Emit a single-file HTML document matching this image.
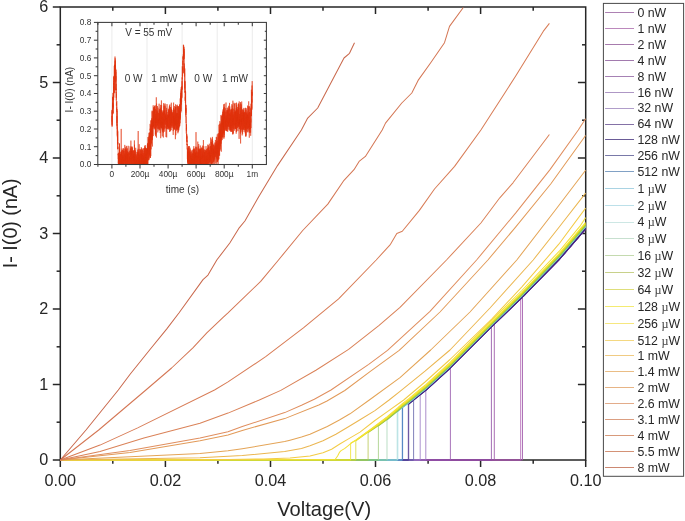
<!DOCTYPE html>
<html lang="en">
<head>
<meta charset="utf-8">
<title>I-V curves</title>
<style>
html,body{margin:0;padding:0;background:#ffffff;}
body{width:685px;height:521px;overflow:hidden;}
svg{display:block;}
</style>
</head>
<body>
<svg width="685" height="521" viewBox="0 0 685 521" font-family="'Liberation Sans', Arial, sans-serif">
<rect x="0" y="0" width="685" height="521" fill="#ffffff"/>
<g stroke="#262626" stroke-width="1.5" fill="none" stroke-linecap="butt">
<rect x="60.3" y="7.0" width="525.4" height="453"/>
<line x1="60.3" y1="460.0" x2="60.3" y2="467"/>
<line x1="112.8" y1="7.0" x2="112.8" y2="10.7"/>
<line x1="112.8" y1="460.0" x2="112.8" y2="463.7"/>
<line x1="165.4" y1="7.0" x2="165.4" y2="14"/>
<line x1="165.4" y1="460.0" x2="165.4" y2="467"/>
<line x1="217.9" y1="7.0" x2="217.9" y2="10.7"/>
<line x1="217.9" y1="460.0" x2="217.9" y2="463.7"/>
<line x1="270.5" y1="7.0" x2="270.5" y2="14"/>
<line x1="270.5" y1="460.0" x2="270.5" y2="467"/>
<line x1="323" y1="7.0" x2="323" y2="10.7"/>
<line x1="323" y1="460.0" x2="323" y2="463.7"/>
<line x1="375.5" y1="7.0" x2="375.5" y2="14"/>
<line x1="375.5" y1="460.0" x2="375.5" y2="467"/>
<line x1="428.1" y1="7.0" x2="428.1" y2="10.7"/>
<line x1="428.1" y1="460.0" x2="428.1" y2="463.7"/>
<line x1="480.6" y1="7.0" x2="480.6" y2="14"/>
<line x1="480.6" y1="460.0" x2="480.6" y2="467"/>
<line x1="533.2" y1="7.0" x2="533.2" y2="10.7"/>
<line x1="533.2" y1="460.0" x2="533.2" y2="463.7"/>
<line x1="585.7" y1="460.0" x2="585.7" y2="467"/>
<line x1="52.8" y1="460" x2="60.3" y2="460"/>
<line x1="56.6" y1="422.2" x2="60.3" y2="422.2"/>
<line x1="582" y1="422.2" x2="585.7" y2="422.2"/>
<line x1="52.8" y1="384.5" x2="60.3" y2="384.5"/>
<line x1="577.9" y1="384.5" x2="585.7" y2="384.5"/>
<line x1="56.6" y1="346.8" x2="60.3" y2="346.8"/>
<line x1="582" y1="346.8" x2="585.7" y2="346.8"/>
<line x1="52.8" y1="309" x2="60.3" y2="309"/>
<line x1="577.9" y1="309" x2="585.7" y2="309"/>
<line x1="56.6" y1="271.2" x2="60.3" y2="271.2"/>
<line x1="582" y1="271.2" x2="585.7" y2="271.2"/>
<line x1="52.8" y1="233.5" x2="60.3" y2="233.5"/>
<line x1="577.9" y1="233.5" x2="585.7" y2="233.5"/>
<line x1="56.6" y1="195.8" x2="60.3" y2="195.8"/>
<line x1="582" y1="195.8" x2="585.7" y2="195.8"/>
<line x1="52.8" y1="158" x2="60.3" y2="158"/>
<line x1="577.9" y1="158" x2="585.7" y2="158"/>
<line x1="56.6" y1="120.2" x2="60.3" y2="120.2"/>
<line x1="582" y1="120.2" x2="585.7" y2="120.2"/>
<line x1="52.8" y1="82.5" x2="60.3" y2="82.5"/>
<line x1="577.9" y1="82.5" x2="585.7" y2="82.5"/>
<line x1="56.6" y1="44.8" x2="60.3" y2="44.8"/>
<line x1="582" y1="44.8" x2="585.7" y2="44.8"/>
<line x1="52.8" y1="7" x2="60.3" y2="7"/>
</g>
<g>
<polyline points="60.3,460 522.5,460" fill="none" stroke="#9a4aa6" stroke-width="0.95" stroke-linejoin="round" />
<polyline points="522.5,460 522.5,297.1" fill="none" stroke="#a05aaa" stroke-width="0.85" stroke-linejoin="round" />
<polyline points="522.5,297.1 558.8,260 585.6,229" fill="none" stroke="#9a4aa6" stroke-width="1.02" stroke-linejoin="round" />
<polyline points="60.3,460 520.7,460" fill="none" stroke="#b055b4" stroke-width="0.95" stroke-linejoin="round" />
<polyline points="520.7,460 520.7,298.8" fill="none" stroke="#b062b4" stroke-width="0.85" stroke-linejoin="round" />
<polyline points="520.7,298.8 521.9,297.7 558.8,260 585.6,229" fill="none" stroke="#b055b4" stroke-width="1.02" stroke-linejoin="round" />
<polyline points="60.3,460 494.3,460" fill="none" stroke="#924aa0" stroke-width="0.95" stroke-linejoin="round" />
<polyline points="494.3,460 494.3,324.1" fill="none" stroke="#9a55a5" stroke-width="0.85" stroke-linejoin="round" />
<polyline points="494.3,324.1 521.9,297.7 558.8,260 585.6,229" fill="none" stroke="#924aa0" stroke-width="1.02" stroke-linejoin="round" />
<polyline points="60.3,460 491.4,460" fill="none" stroke="#8a48a2" stroke-width="0.95" stroke-linejoin="round" />
<polyline points="491.4,460 491.4,326.9" fill="none" stroke="#9454a6" stroke-width="0.85" stroke-linejoin="round" />
<polyline points="491.4,326.9 521.9,297.7 558.8,260 585.6,229" fill="none" stroke="#8a48a2" stroke-width="1.02" stroke-linejoin="round" />
<polyline points="60.3,460 450.4,460" fill="none" stroke="#9050aa" stroke-width="0.95" stroke-linejoin="round" />
<polyline points="450.4,460 450.4,367.9" fill="none" stroke="#985cae" stroke-width="0.85" stroke-linejoin="round" />
<polyline points="450.4,367.9 491.7,326.6 521.9,297.7 558.8,260 585.6,229" fill="none" stroke="#9050aa" stroke-width="1.02" stroke-linejoin="round" />
<polyline points="60.3,460 425.8,460" fill="none" stroke="#9670c0" stroke-width="0.95" stroke-linejoin="round" />
<polyline points="425.8,460 425.8,390.3" fill="none" stroke="#9c78c0" stroke-width="0.85" stroke-linejoin="round" />
<polyline points="425.8,390.3 450.3,368 491.7,326.6 521.9,297.7 558.8,260 585.6,229" fill="none" stroke="#9670c0" stroke-width="1.02" stroke-linejoin="round" />
<polyline points="60.3,460 420.2,460" fill="none" stroke="#9878c6" stroke-width="0.95" stroke-linejoin="round" />
<polyline points="420.2,460 420.2,394.8" fill="none" stroke="#9e80c6" stroke-width="0.85" stroke-linejoin="round" />
<polyline points="420.2,394.8 425.8,390.3 450.3,368 491.7,326.6 521.9,297.7 558.8,260 585.6,229" fill="none" stroke="#9878c6" stroke-width="1.02" stroke-linejoin="round" />
<polyline points="60.3,460 408.3,460" fill="none" stroke="#5e3e98" stroke-width="0.95" stroke-linejoin="round" />
<polyline points="408.3,460 408.3,404.4" fill="none" stroke="#6c4ea0" stroke-width="0.85" stroke-linejoin="round" />
<polyline points="408.3,404.4 413.9,399.9 420.4,394.6 425.8,390.3 450.3,368 491.7,326.6 521.9,297.7 558.8,260 585.6,229" fill="none" stroke="#5e3e98" stroke-width="1.02" stroke-linejoin="round" />
<polyline points="60.3,460 408.7,460" fill="none" stroke="#40288a" stroke-width="0.95" stroke-linejoin="round" />
<polyline points="408.7,460 408.7,404.1" fill="none" stroke="#5a4498" stroke-width="0.85" stroke-linejoin="round" />
<polyline points="408.7,404.1 413.9,399.9 420.4,394.6 425.8,390.3 450.3,368 491.7,326.6 521.9,297.7 558.8,260 585.6,229" fill="none" stroke="#40288a" stroke-width="1.02" stroke-linejoin="round" />
<polyline points="60.3,460 413.6,460" fill="none" stroke="#4c4c9c" stroke-width="0.95" stroke-linejoin="round" />
<polyline points="413.6,460 413.6,399" fill="none" stroke="#6a6aac" stroke-width="0.85" stroke-linejoin="round" />
<polyline points="413.6,399 420.4,393.4 425.8,389.1 450.3,366.8 491.7,325.4 521.9,296.4 558.8,258.5 585.6,227.3" fill="none" stroke="#4c4c9c" stroke-width="1.02" stroke-linejoin="round" />
<polyline points="60.3,460 402.6,460" fill="none" stroke="#4a80c0" stroke-width="0.95" stroke-linejoin="round" />
<polyline points="402.6,460 402.6,407.4" fill="none" stroke="#4a80c0" stroke-width="0.85" stroke-linejoin="round" />
<polyline points="402.6,407.4 408.5,403 413.9,398.5 420.4,393.2 425.8,388.9 450.3,366.6 491.7,325.2 521.9,296.1 558.8,258.2 585.6,227" fill="none" stroke="#4a80c0" stroke-width="1.02" stroke-linejoin="round" />
<polygon points="408.5,404.8 413.9,400.3 420.4,395.1 425.8,390.8 450.3,368.4 491.7,327.1 521.9,298.1 558.8,260.4 585.6,229.4 585.6,226.7 558.8,258.2 521.9,296.3 491.7,325.6 450.3,367.3 425.8,389.8 420.4,394.1 413.9,399.5 408.5,403.9" fill="#43227f"/>
<polyline points="60.3,460 402.3,460" fill="none" stroke="#6cbede" stroke-width="0.95" stroke-linejoin="round" />
<polyline points="402.3,460 402.3,407.4" fill="none" stroke="#4a80c0" stroke-width="0.85" stroke-linejoin="round" />
<polyline points="402.3,407.4 408.5,402.7 413.9,398.3 420.4,393 425.8,388.7 450.3,366.4 491.7,325 521.9,295.9 558.8,257.9 585.6,226.7" fill="none" stroke="#6cbede" stroke-width="1.15" stroke-linejoin="round" />
<polyline points="60.3,460 397.8,460" fill="none" stroke="#80cce0" stroke-width="0.95" stroke-linejoin="round" />
<polyline points="397.8,460 397.8,411.2" fill="none" stroke="#a4dcea" stroke-width="0.85" stroke-linejoin="round" />
<polyline points="397.8,411.2 402.6,407 408.5,402.6 413.9,398.2 420.4,392.9 425.8,388.5 450.3,366.2 491.7,324.8 521.9,295.7 558.8,257.7 585.6,226.5" fill="none" stroke="#80cce0" stroke-width="1.15" stroke-linejoin="round" />
<polyline points="60.3,460 397.2,460" fill="none" stroke="#84d0c4" stroke-width="0.95" stroke-linejoin="round" />
<polyline points="397.2,460 397.2,411.6" fill="none" stroke="#b4e0dc" stroke-width="0.85" stroke-linejoin="round" />
<polyline points="397.2,411.6 402.6,406.9 408.5,402.4 413.9,398 420.4,392.7 425.8,388.4 450.3,366.1 491.7,324.6 521.9,295.5 558.8,257.5 585.6,226.3" fill="none" stroke="#84d0c4" stroke-width="1.15" stroke-linejoin="round" />
<polyline points="60.3,460 387,460" fill="none" stroke="#7cc890" stroke-width="0.95" stroke-linejoin="round" />
<polyline points="387,460 387,419.8" fill="none" stroke="#aed8ba" stroke-width="0.85" stroke-linejoin="round" />
<polyline points="387,419.8 397.6,411 402.6,406.6 408.5,402.2 413.9,397.8 420.4,392.4 425.8,388.1 450.3,365.8 491.7,324.3 521.9,295.2 558.8,257.1 585.6,225.9" fill="none" stroke="#7cc890" stroke-width="1.15" stroke-linejoin="round" />
<polyline points="60.3,460 378.4,460" fill="none" stroke="#86c85a" stroke-width="0.95" stroke-linejoin="round" />
<polyline points="378.4,460 378.4,425.8" fill="none" stroke="#a8d088" stroke-width="0.85" stroke-linejoin="round" />
<polyline points="378.4,425.8 387,419.5 397.6,410.7 402.6,406.3 408.5,401.9 413.9,397.4 420.4,392.1 425.8,387.8 450.3,365.5 491.7,324 521.9,294.8 558.8,256.7 585.6,225.4" fill="none" stroke="#86c85a" stroke-width="1.15" stroke-linejoin="round" />
<polyline points="60.3,460 368.1,460" fill="none" stroke="#aac63a" stroke-width="0.95" stroke-linejoin="round" />
<polyline points="368.1,460 368.1,432.5" fill="none" stroke="#bccb5c" stroke-width="0.85" stroke-linejoin="round" />
<polyline points="368.1,432.5 378.4,425.4 387,419 397.6,410.2 402.6,405.8 408.5,401.3 413.9,396.9 420.4,391.6 425.8,387.3 450.3,364.9 491.7,323.5 521.9,294.2 558.8,256 585.6,224.7" fill="none" stroke="#aac63a" stroke-width="1.2" stroke-linejoin="round" />
<polyline points="60.3,460 355.8,460" fill="none" stroke="#d4d628" stroke-width="0.95" stroke-linejoin="round" />
<polyline points="355.8,460 355.8,440.8" fill="none" stroke="#dadb3e" stroke-width="0.85" stroke-linejoin="round" />
<polyline points="355.8,440.8 368.1,432 378.4,424.8 387,418.4 397.6,409.6 402.6,405.2 408.5,400.7 413.9,396.3 420.4,390.9 425.8,386.6 450.3,364.3 491.7,322.8 521.9,293.5 558.8,255.2 585.6,223.8" fill="none" stroke="#d4d628" stroke-width="1.2" stroke-linejoin="round" />
<polyline points="60.3,460 350.6,460" fill="none" stroke="#f2e628" stroke-width="0.95" stroke-linejoin="round" />
<polyline points="350.6,460 350.6,443.2" fill="none" stroke="#f0e438" stroke-width="0.85" stroke-linejoin="round" />
<polyline points="350.6,443.2 355.8,440.3 368.1,431.4 378.4,424.1 387,417.6 397.6,408.8 402.6,404.4 408.5,399.9 413.9,395.5 420.4,390.1 425.8,385.8 450.3,363.5 491.7,322 521.9,292.6 558.8,254.1 585.6,222.6" fill="none" stroke="#f2e628" stroke-width="1.2" stroke-linejoin="round" />
<polyline points="60.3,460 335.3,459.3 337.6,456 339.4,452.4 341.1,450.6 344.5,448.6 348,445.8 350.6,443.7 355.8,440.2 368.1,431.1 378.4,423.4 387,416.9 397.6,407.9 402.6,403.4 408.5,398.9 413.9,394.4 420.4,389 425.8,384.6 450.3,362.1 491.7,320.2 521.9,290.5 560,250.3 580,226.2 585.6,217.6" fill="none" stroke="#f5e038" stroke-width="1.02" stroke-linejoin="round" />
<polyline points="60.3,460 200,459.9 263.5,459 290,457.9 310,456 323,452.8 331.6,449.2 340.2,443.8 348.9,438.6 360,432.1 374.9,420.5 387.4,411.6 403.7,400 425,382 450,359.5 491.7,319.1 521.9,286.8 558.8,244.2 585.6,208.1" fill="none" stroke="#f3cb46" stroke-width="1.02" stroke-linejoin="round" />
<polyline points="60.3,460 200,457.8 242.3,455.5 284.7,451.6 301.5,448.5 310,445.7 323,440.8 335.9,434.2 348.9,426.5 360,419.8 374.9,410.6 389.1,400 400,391.3 425,371.2 450,350 490,308 533.2,260 560,226 585.6,193.1" fill="none" stroke="#ebb650" stroke-width="1.02" stroke-linejoin="round" />
<polyline points="60.3,460 200,453.4 228,450.8 242.3,448.7 284.7,441.6 290,440.2 301.5,437 310,434.2 327.3,426.5 339.4,420 350,413.8 369.3,400 400,377.6 430.7,350 470,312 516.8,260 555,210.5 585.6,170.2" fill="none" stroke="#e4a456" stroke-width="1.02" stroke-linejoin="round" />
<polyline points="60.3,460 130,452.4 200,440.8 228,434.9 242.3,430.4 284.7,418.6 318.8,405 327,401 344.8,390.5 370,371.6 399.2,350.4 440,312 487.9,260 516,226.6 550.7,184 585.6,135.5" fill="none" stroke="#e29a58" stroke-width="1.02" stroke-linejoin="round" />
<polyline points="60.3,460 130,450.4 200,438 228,431.8 242.3,426.6 284.7,412.6 301.5,405.3 314.3,399.2 331,390 368.7,364.3 387.5,350.4 430,311.3 476.6,260 516,212.6 550,169.6 578.3,130 585.6,118.8" fill="none" stroke="#e08e5e" stroke-width="1.02" stroke-linejoin="round" />
<polyline points="60.3,460 100,451.4 143.9,437.9 200,423.3 228,413.1 259.3,400 280.8,390.4 315.9,370.3 348.6,349.4 378.8,325.6 400,307.3 446.5,260 480.9,223 499.8,197.8 513,182.8 549.4,134.5" fill="none" stroke="#da8258" stroke-width="1.02" stroke-linejoin="round" />
<polyline points="60.3,460 100,445.1 137.7,427.9 214.5,390 228,381.9 265.7,356.7 303.4,327.8 338.6,298.9 376.2,260 390.5,244.3 396.8,233.5 402.3,231.3 419.4,210.4 434.5,189 454.6,166.4 480.9,130 504.8,93 516,75.4 543.2,31.4 549.4,23.4" fill="none" stroke="#d87c56" stroke-width="1.02" stroke-linejoin="round" />
<polyline points="60.3,460 98.7,430 145.9,390 171.6,368 192.9,347.9 206.8,332.9 223.1,317.3 228,312.8 260.7,281.4 278.5,260 302.7,230.5 327.8,204.1 344,180.3 354,169.7 359.1,161.4 365.4,156.4 382.2,130 385.5,123.1 401.8,103 411.8,93 418.1,80.4 430.7,62.8 444.5,42.7 449.5,26.4 463.3,7.5" fill="none" stroke="#d47654" stroke-width="1.02" stroke-linejoin="round" />
<polyline points="60.3,460 86,430 118.3,390 130.1,374.3 150.2,349.2 166.6,329.1 179.1,312.8 203,279.6 208,275.1 216.8,260 229.8,243 239.4,227.6 244.9,221 258.7,196.8 277.5,165.6 301.4,130 307.7,118.1 317.7,108 344,58 349.5,53.3 354.5,42.7" fill="none" stroke="#c9684c" stroke-width="1.02" stroke-linejoin="round" />
</g>
<g fill="#262626" font-size="16.2px">
<text x="60.3" y="486.2" text-anchor="middle">0.00</text>
<text x="165.4" y="486.2" text-anchor="middle">0.02</text>
<text x="270.5" y="486.2" text-anchor="middle">0.04</text>
<text x="375.5" y="486.2" text-anchor="middle">0.06</text>
<text x="480.6" y="486.2" text-anchor="middle">0.08</text>
<text x="585.7" y="486.2" text-anchor="middle">0.10</text>
<text x="48.2" y="465" text-anchor="end">0</text>
<text x="48.2" y="389.5" text-anchor="end">1</text>
<text x="48.2" y="314" text-anchor="end">2</text>
<text x="48.2" y="238.5" text-anchor="end">3</text>
<text x="48.2" y="163" text-anchor="end">4</text>
<text x="48.2" y="87.5" text-anchor="end">5</text>
<text x="48.2" y="12" text-anchor="end">6</text>
</g>
<text x="324.2" y="515.5" text-anchor="middle" font-size="20.1px" fill="#262626">Voltage(V)</text>
<text transform="translate(16.9,223.3) rotate(-90)" text-anchor="middle" font-size="19.7px" fill="#262626">I- I(0) (nA)</text>
<rect x="603.4" y="3.4" width="80.2" height="472.9" fill="#ffffff" stroke="#4a4a4a" stroke-width="1"/>
<g font-size="12.35px" fill="#262626">
<line x1="605.1" y1="12.5" x2="634" y2="12.5" stroke="#ad81b3" stroke-width="1"/>
<text x="637.4" y="16.9">0 nW</text>
<line x1="605.1" y1="28.5" x2="634" y2="28.5" stroke="#bc89bd" stroke-width="1"/>
<text x="637.4" y="32.8">1 nW</text>
<line x1="605.1" y1="44.5" x2="634" y2="44.5" stroke="#a77bad" stroke-width="1"/>
<text x="637.4" y="48.7">2 nW</text>
<line x1="605.1" y1="60.5" x2="634" y2="60.5" stroke="#a27aae" stroke-width="1"/>
<text x="637.4" y="64.6">4 nW</text>
<line x1="605.1" y1="76.5" x2="634" y2="76.5" stroke="#a681b4" stroke-width="1"/>
<text x="637.4" y="80.6">8 nW</text>
<line x1="605.1" y1="92.5" x2="634" y2="92.5" stroke="#ae97c5" stroke-width="1"/>
<text x="637.4" y="96.5">16 nW</text>
<line x1="605.1" y1="108.5" x2="634" y2="108.5" stroke="#b09dca" stroke-width="1"/>
<text x="637.4" y="112.4">32 nW</text>
<line x1="605.1" y1="124.5" x2="634" y2="124.5" stroke="#8471a6" stroke-width="1"/>
<text x="637.4" y="128.4">64 nW</text>
<line x1="605.1" y1="139.5" x2="634" y2="139.5" stroke="#6a5b97" stroke-width="1"/>
<text x="637.4" y="144.3">128 nW</text>
<line x1="605.1" y1="155.5" x2="634" y2="155.5" stroke="#7979a8" stroke-width="1"/>
<text x="637.4" y="160.2">256 nW</text>
<line x1="605.1" y1="171.5" x2="634" y2="171.5" stroke="#81a1c5" stroke-width="1"/>
<text x="637.4" y="176.2">512 nW</text>
<line x1="605.1" y1="188.5" x2="634" y2="188.5" stroke="#a9d3e3" stroke-width="1"/>
<text x="637.4" y="192.7">1 <tspan font-family="'Liberation Serif', 'DejaVu Serif', serif" font-size="12.2px" fill="#3c3c3c">µ</tspan>W</text>
<line x1="605.1" y1="205.5" x2="634" y2="205.5" stroke="#bce0e9" stroke-width="1"/>
<text x="637.4" y="209.5">2 <tspan font-family="'Liberation Serif', 'DejaVu Serif', serif" font-size="12.2px" fill="#3c3c3c">µ</tspan>W</text>
<line x1="605.1" y1="222.5" x2="634" y2="222.5" stroke="#cde7e4" stroke-width="1"/>
<text x="637.4" y="226.4">4 <tspan font-family="'Liberation Serif', 'DejaVu Serif', serif" font-size="12.2px" fill="#3c3c3c">µ</tspan>W</text>
<line x1="605.1" y1="238.5" x2="634" y2="238.5" stroke="#c7e0cf" stroke-width="1"/>
<text x="637.4" y="243.3">8 <tspan font-family="'Liberation Serif', 'DejaVu Serif', serif" font-size="12.2px" fill="#3c3c3c">µ</tspan>W</text>
<line x1="605.1" y1="255.5" x2="634" y2="255.5" stroke="#c4daaf" stroke-width="1"/>
<text x="637.4" y="260.1">16 <tspan font-family="'Liberation Serif', 'DejaVu Serif', serif" font-size="12.2px" fill="#3c3c3c">µ</tspan>W</text>
<line x1="605.1" y1="272.5" x2="634" y2="272.5" stroke="#c8d18a" stroke-width="1"/>
<text x="637.4" y="277">32 <tspan font-family="'Liberation Serif', 'DejaVu Serif', serif" font-size="12.2px" fill="#3c3c3c">µ</tspan>W</text>
<line x1="605.1" y1="289.5" x2="634" y2="289.5" stroke="#dede7a" stroke-width="1"/>
<text x="637.4" y="293.9">64 <tspan font-family="'Liberation Serif', 'DejaVu Serif', serif" font-size="12.2px" fill="#3c3c3c">µ</tspan>W</text>
<line x1="605.1" y1="306.5" x2="634" y2="306.5" stroke="#f4eb71" stroke-width="1"/>
<text x="637.4" y="310.7">128 <tspan font-family="'Liberation Serif', 'DejaVu Serif', serif" font-size="12.2px" fill="#3c3c3c">µ</tspan>W</text>
<line x1="605.1" y1="323.5" x2="634" y2="323.5" stroke="#f6e77f" stroke-width="1"/>
<text x="637.4" y="327.6">256 <tspan font-family="'Liberation Serif', 'DejaVu Serif', serif" font-size="12.2px" fill="#3c3c3c">µ</tspan>W</text>
<line x1="605.1" y1="340.5" x2="634" y2="340.5" stroke="#f4d881" stroke-width="1"/>
<text x="637.4" y="344.5">512 <tspan font-family="'Liberation Serif', 'DejaVu Serif', serif" font-size="12.2px" fill="#3c3c3c">µ</tspan>W</text>
<line x1="605.1" y1="355.5" x2="634" y2="355.5" stroke="#f0cb83" stroke-width="1"/>
<text x="637.4" y="360.2">1 mW</text>
<line x1="605.1" y1="371.5" x2="634" y2="371.5" stroke="#eabd85" stroke-width="1"/>
<text x="637.4" y="376.1">1.4 mW</text>
<line x1="605.1" y1="387.5" x2="634" y2="387.5" stroke="#e7b485" stroke-width="1"/>
<text x="637.4" y="392.1">2 mW</text>
<line x1="605.1" y1="403.5" x2="634" y2="403.5" stroke="#e3ac8a" stroke-width="1"/>
<text x="637.4" y="407.9">2.6 mW</text>
<line x1="605.1" y1="419.5" x2="634" y2="419.5" stroke="#db9e81" stroke-width="1"/>
<text x="637.4" y="423.9">3.1 mW</text>
<line x1="605.1" y1="435.5" x2="634" y2="435.5" stroke="#d89a7b" stroke-width="1"/>
<text x="637.4" y="439.8">4 mW</text>
<line x1="605.1" y1="451.5" x2="634" y2="451.5" stroke="#d49276" stroke-width="1"/>
<text x="637.4" y="455.6">5.5 mW</text>
<line x1="605.1" y1="467.5" x2="634" y2="467.5" stroke="#cc8872" stroke-width="1"/>
<text x="637.4" y="471.6">8 mW</text>
</g>
<rect x="97.8" y="22.4" width="168.6" height="142.1" fill="#ffffff" stroke="none"/>
<g stroke="#d6d6d6" stroke-width="0.5">
<line x1="111.9" y1="22.4" x2="111.9" y2="164.5"/>
<line x1="147" y1="22.4" x2="147" y2="164.5"/>
<line x1="182.1" y1="22.4" x2="182.1" y2="164.5"/>
<line x1="217.2" y1="22.4" x2="217.2" y2="164.5"/>
<line x1="252.3" y1="22.4" x2="252.3" y2="164.5"/>
</g>
<polyline points="111.9,121.7 111.9,115.8 112.0,124.7 112.0,119.6 112.0,110.3 112.1,115.3 112.1,126.8 112.2,109.8 112.2,125.8 112.2,125.5 112.3,111.9 112.3,113.7 112.3,110.6 112.4,109.4 112.4,107.7 112.5,102.5 112.5,112.6 112.5,110.5 112.6,112.0 112.6,114.6 112.6,113.0 112.7,105.7 112.7,106.5 112.7,96.9 112.8,106.3 112.8,110.1 112.9,113.5 112.9,97.9 112.9,92.9 113.0,100.0 113.0,97.6 113.0,105.2 113.1,106.8 113.1,103.5 113.2,108.6 113.2,97.3 113.2,110.2 113.3,113.4 113.3,96.3 113.3,100.2 113.4,94.9 113.4,94.9 113.5,98.0 113.5,92.1 113.5,95.4 113.6,83.1 113.6,100.0 113.6,96.8 113.7,87.7 113.7,87.9 113.7,86.3 113.8,97.6 113.8,81.1 113.9,84.7 113.9,77.0 113.9,89.7 114.0,87.2 114.0,87.5 114.0,76.1 114.1,92.4 114.1,75.8 114.2,77.1 114.2,81.6 114.2,77.9 114.3,77.4 114.3,80.8 114.3,65.9 114.4,77.3 114.4,79.1 114.4,71.8 114.5,64.7 114.5,93.2 114.6,73.8 114.6,74.3 114.6,69.2 114.7,66.5 114.7,76.5 114.7,65.0 114.8,71.5 114.8,74.0 114.9,76.4 114.9,70.0 114.9,78.2 115.0,67.8 115.0,56.5 115.0,64.2 115.1,78.9 115.1,72.5 115.2,61.3 115.2,65.3 115.2,58.3 115.3,67.0 115.3,60.3 115.3,68.5 115.4,66.9 115.4,65.4 115.4,66.7 115.5,76.8 115.5,65.0 115.6,69.3 115.6,75.0 115.6,82.3 115.7,82.1 115.7,68.9 115.7,90.1 115.8,72.1 115.8,79.4 115.9,80.5 115.9,77.2 115.9,76.2 116.0,90.4 116.0,69.9 116.0,90.1 116.1,83.9 116.1,93.3 116.1,91.0 116.2,88.7 116.2,97.9 116.3,97.7 116.3,91.8 116.3,100.5 116.4,93.7 116.4,103.2 116.4,105.6 116.5,103.6 116.5,102.4 116.6,107.8 116.6,110.2 116.6,108.6 116.7,107.4 116.7,111.7 116.7,111.9 116.8,101.1 116.8,111.8 116.9,125.5 116.9,121.3 116.9,116.2 117.0,123.1 117.0,119.6 117.0,109.0 117.1,129.5 117.1,110.7 117.1,126.4 117.2,125.9 117.2,124.3 117.3,130.8 117.3,135.6 117.3,130.2 117.4,137.3 117.4,126.6 117.4,132.7 117.5,149.2 117.5,132.7 117.6,141.2 117.6,133.4 117.6,129.6 117.7,141.3 117.7,143.6 117.7,133.6 117.8,131.4 117.8,144.2 117.8,144.6 117.9,143.9 117.9,142.3 118.0,143.2 118.0,149.2 118.0,146.7 118.1,152.0 118.1,154.6 118.1,155.4 118.2,153.6 118.2,155.0 118.3,159.1 118.3,153.7 118.3,163.7 118.4,156.1 118.4,163.4 118.4,162.5 118.5,160.9 118.5,158.2 118.6,154.7 118.6,161.5 118.6,152.7 118.7,154.4 118.7,160.6 118.7,164.5 118.8,157.1 118.8,160.9 118.8,164.5 118.9,159.5 118.9,164.5 119.0,164.5 119.0,162.0 119.0,164.5 119.1,156.7 119.1,158.8 119.1,160.0 119.2,156.1 119.2,153.4 119.3,164.5 119.3,161.5 119.3,153.1 119.4,161.1 119.4,143.8 119.4,159.3 119.5,143.4 119.5,153.7 119.5,159.8 119.6,148.6 119.6,160.1 119.7,157.1 119.7,154.5 119.7,159.1 119.8,164.5 119.8,161.6 119.8,155.3 119.9,163.6 119.9,153.9 120.0,151.7 120.0,153.1 120.0,164.5 120.1,158.6 120.1,162.7 120.1,154.1 120.2,164.5 120.2,152.4 120.3,164.5 120.3,156.6 120.3,159.2 120.4,155.7 120.4,164.5 120.4,154.2 120.5,156.8 120.5,164.5 120.5,161.0 120.6,161.6 120.6,155.4 120.7,157.6 120.7,160.8 120.7,164.5 120.8,164.5 120.8,158.6 120.8,161.3 120.9,161.6 120.9,160.1 121.0,158.7 121.0,158.0 121.0,162.8 121.1,164.5 121.1,164.5 121.1,158.3 121.2,154.4 121.2,128.9 121.2,156.9 121.3,164.0 121.3,158.3 121.4,157.8 121.4,151.8 121.4,156.7 121.5,160.7 121.5,152.4 121.5,164.5 121.6,161.0 121.6,164.5 121.7,159.5 121.7,162.6 121.7,155.2 121.8,164.5 121.8,150.9 121.8,163.8 121.9,163.7 121.9,155.3 121.9,163.6 122.0,154.7 122.0,150.2 122.1,152.7 122.1,159.9 122.1,154.9 122.2,164.5 122.2,148.6 122.2,164.5 122.3,164.5 122.3,160.2 122.4,161.6 122.4,159.7 122.4,164.5 122.5,156.9 122.5,161.2 122.5,162.6 122.6,150.0 122.6,162.5 122.7,163.8 122.7,158.0 122.7,156.6 122.8,163.8 122.8,159.8 122.8,162.8 122.9,158.8 122.9,161.2 122.9,157.6 123.0,164.5 123.0,164.5 123.1,164.5 123.1,155.9 123.1,155.2 123.2,157.9 123.2,164.5 123.2,160.0 123.3,160.4 123.3,155.1 123.4,148.1 123.4,150.6 123.4,157.9 123.5,164.5 123.5,164.5 123.5,150.8 123.6,155.2 123.6,160.6 123.6,164.5 123.7,161.0 123.7,164.5 123.8,164.5 123.8,149.2 123.8,157.2 123.9,162.7 123.9,163.6 123.9,164.5 124.0,164.5 124.0,164.5 124.1,161.0 124.1,160.5 124.1,160.4 124.2,151.1 124.2,161.9 124.2,159.4 124.3,155.1 124.3,160.3 124.4,158.6 124.4,163.6 124.4,157.5 124.5,159.6 124.5,158.2 124.5,161.4 124.6,163.2 124.6,163.6 124.6,160.0 124.7,157.9 124.7,163.5 124.8,163.7 124.8,144.9 124.8,158.8 124.9,153.4 124.9,156.0 124.9,154.8 125.0,158.6 125.0,158.3 125.1,149.3 125.1,164.5 125.1,154.7 125.2,161.9 125.2,159.9 125.2,161.3 125.3,163.4 125.3,154.4 125.3,154.1 125.4,148.2 125.4,148.4 125.5,154.8 125.5,164.5 125.5,164.5 125.6,158.9 125.6,164.5 125.6,149.7 125.7,155.8 125.7,164.5 125.8,146.7 125.8,154.4 125.8,155.3 125.9,162.9 125.9,163.1 125.9,162.8 126.0,160.0 126.0,159.3 126.1,154.4 126.1,159.2 126.1,152.7 126.2,163.0 126.2,156.7 126.2,156.3 126.3,161.4 126.3,155.1 126.3,164.5 126.4,162.1 126.4,154.4 126.5,156.4 126.5,149.9 126.5,152.0 126.6,158.2 126.6,145.9 126.6,164.5 126.7,153.8 126.7,155.6 126.8,159.2 126.8,153.3 126.8,160.0 126.9,164.5 126.9,157.0 126.9,163.7 127.0,160.2 127.0,163.5 127.0,152.4 127.1,149.1 127.1,164.5 127.2,147.9 127.2,156.6 127.2,164.5 127.3,164.5 127.3,158.0 127.3,154.8 127.4,158.6 127.4,151.6 127.5,161.1 127.5,155.3 127.5,164.4 127.6,157.1 127.6,160.8 127.6,158.7 127.7,153.9 127.7,160.1 127.8,151.3 127.8,154.3 127.8,159.5 127.9,161.3 127.9,155.9 127.9,157.2 128.0,158.7 128.0,161.4 128.0,161.7 128.1,163.7 128.1,157.1 128.2,162.6 128.2,152.3 128.2,145.8 128.3,164.5 128.3,155.0 128.3,154.5 128.4,163.2 128.4,154.7 128.5,153.2 128.5,162.4 128.5,152.4 128.6,155.2 128.6,156.7 128.6,155.8 128.7,154.2 128.7,155.2 128.7,158.8 128.8,156.8 128.8,161.7 128.9,159.7 128.9,152.6 128.9,164.2 129.0,158.9 129.0,163.7 129.0,158.0 129.1,163.0 129.1,164.5 129.2,160.5 129.2,161.7 129.2,164.5 129.3,159.8 129.3,161.4 129.3,164.5 129.4,164.0 129.4,164.5 129.5,155.9 129.5,162.7 129.5,164.5 129.6,164.2 129.6,158.6 129.6,164.5 129.7,157.3 129.7,157.8 129.7,164.5 129.8,157.2 129.8,150.9 129.9,154.8 129.9,152.8 129.9,157.4 130.0,151.7 130.0,150.5 130.0,158.2 130.1,163.2 130.1,146.3 130.2,163.2 130.2,157.8 130.2,160.7 130.3,152.6 130.3,148.5 130.3,155.2 130.4,154.0 130.4,160.4 130.4,152.4 130.5,158.3 130.5,156.5 130.6,156.8 130.6,161.9 130.6,164.5 130.7,161.4 130.7,164.5 130.7,162.3 130.8,151.0 130.8,160.2 130.9,161.4 130.9,140.6 130.9,159.3 131.0,164.5 131.0,148.7 131.0,156.4 131.1,151.5 131.1,160.6 131.1,158.2 131.2,159.9 131.2,164.5 131.3,156.7 131.3,147.1 131.3,154.0 131.4,159.8 131.4,158.5 131.4,151.6 131.5,164.3 131.5,164.3 131.6,159.7 131.6,156.3 131.6,152.2 131.7,164.5 131.7,150.8 131.7,159.2 131.8,163.5 131.8,164.5 131.9,159.8 131.9,146.2 131.9,163.3 132.0,157.3 132.0,151.9 132.0,159.3 132.1,157.2 132.1,151.6 132.1,158.4 132.2,163.0 132.2,147.2 132.3,155.9 132.3,147.7 132.3,159.4 132.4,160.2 132.4,164.5 132.4,159.7 132.5,158.1 132.5,163.5 132.6,164.5 132.6,164.5 132.6,161.8 132.7,160.6 132.7,150.8 132.7,159.1 132.8,160.5 132.8,160.4 132.8,164.5 132.9,155.8 132.9,163.2 133.0,164.5 133.0,164.5 133.0,164.5 133.1,157.6 133.1,164.5 133.1,156.0 133.2,157.8 133.2,151.3 133.3,159.0 133.3,158.7 133.3,157.9 133.4,150.5 133.4,157.4 133.4,160.1 133.5,161.9 133.5,155.1 133.6,164.5 133.6,150.4 133.6,164.5 133.7,159.0 133.7,156.9 133.7,156.5 133.8,164.5 133.8,160.5 133.8,157.1 133.9,158.3 133.9,154.3 134.0,154.7 134.0,163.2 134.0,155.8 134.1,154.7 134.1,164.5 134.1,164.5 134.2,155.6 134.2,163.6 134.3,160.8 134.3,153.8 134.3,156.7 134.4,140.4 134.4,159.5 134.4,156.9 134.5,153.1 134.5,160.8 134.5,144.7 134.6,161.9 134.6,164.5 134.7,150.1 134.7,154.5 134.7,163.5 134.8,163.6 134.8,157.8 134.8,159.7 134.9,155.1 134.9,164.5 135.0,159.9 135.0,164.5 135.0,158.0 135.1,163.0 135.1,163.9 135.1,154.7 135.2,164.5 135.2,164.5 135.3,155.8 135.3,164.5 135.3,156.8 135.4,162.6 135.4,150.5 135.4,157.2 135.5,155.9 135.5,156.9 135.5,155.1 135.6,160.2 135.6,162.4 135.7,164.5 135.7,147.8 135.7,163.2 135.8,158.2 135.8,158.2 135.8,153.8 135.9,157.4 135.9,164.5 136.0,162.8 136.0,159.1 136.0,160.6 136.1,164.5 136.1,159.9 136.1,164.5 136.2,151.9 136.2,164.5 136.2,163.3 136.3,164.5 136.3,161.6 136.4,161.7 136.4,161.7 136.4,164.5 136.5,164.5 136.5,157.4 136.5,156.2 136.6,161.4 136.6,164.5 136.7,155.2 136.7,163.0 136.7,160.8 136.8,162.4 136.8,160.2 136.8,161.2 136.9,164.5 136.9,164.5 137.0,160.7 137.0,162.1 137.0,164.5 137.1,154.0 137.1,160.4 137.1,160.6 137.2,159.3 137.2,161.5 137.2,164.5 137.3,160.6 137.3,164.5 137.4,157.9 137.4,164.5 137.4,158.0 137.5,164.5 137.5,163.5 137.5,161.4 137.6,164.5 137.6,164.5 137.7,161.8 137.7,152.2 137.7,164.5 137.8,150.1 137.8,160.0 137.8,152.1 137.9,164.3 137.9,161.9 137.9,153.0 138.0,162.7 138.0,164.3 138.1,148.8 138.1,155.7 138.1,152.3 138.2,131.0 138.2,158.8 138.2,159.9 138.3,157.0 138.3,158.9 138.4,164.5 138.4,158.9 138.4,163.1 138.5,158.0 138.5,164.5 138.5,157.7 138.6,163.0 138.6,160.2 138.6,164.5 138.7,160.2 138.7,155.3 138.8,153.3 138.8,157.3 138.8,164.5 138.9,154.9 138.9,164.5 138.9,164.5 139.0,164.5 139.0,157.5 139.1,160.4 139.1,151.3 139.1,158.3 139.2,164.5 139.2,144.2 139.2,158.6 139.3,160.7 139.3,164.5 139.4,149.2 139.4,164.5 139.4,161.4 139.5,164.5 139.5,156.1 139.5,156.9 139.6,164.5 139.6,164.5 139.6,160.5 139.7,162.2 139.7,155.1 139.8,164.5 139.8,164.5 139.8,153.9 139.9,164.4 139.9,155.8 139.9,159.7 140.0,164.5 140.0,164.5 140.1,164.5 140.1,164.5 140.1,161.5 140.2,163.3 140.2,159.6 140.2,162.4 140.3,157.7 140.3,164.5 140.3,155.0 140.4,164.5 140.4,161.7 140.5,153.6 140.5,164.5 140.5,164.5 140.6,156.8 140.6,159.1 140.6,149.6 140.7,164.5 140.7,154.4 140.8,164.5 140.8,158.9 140.8,154.6 140.9,150.3 140.9,159.6 140.9,149.0 141.0,152.0 141.0,163.9 141.1,159.1 141.1,158.0 141.1,153.6 141.2,164.5 141.2,161.4 141.2,164.5 141.3,147.2 141.3,150.7 141.3,159.0 141.4,163.2 141.4,150.4 141.5,161.8 141.5,159.7 141.5,164.5 141.6,156.3 141.6,164.5 141.6,153.0 141.7,164.5 141.7,152.6 141.8,164.1 141.8,161.7 141.8,162.9 141.9,164.5 141.9,148.1 141.9,161.3 142.0,164.5 142.0,154.1 142.0,164.5 142.1,164.5 142.1,154.9 142.2,159.8 142.2,154.6 142.2,164.5 142.3,155.1 142.3,164.5 142.3,153.1 142.4,164.5 142.4,161.2 142.5,157.7 142.5,156.6 142.5,149.8 142.6,164.5 142.6,164.5 142.6,160.2 142.7,149.3 142.7,150.1 142.8,153.9 142.8,164.5 142.8,164.5 142.9,164.5 142.9,158.6 142.9,155.7 143.0,151.0 143.0,164.5 143.0,155.5 143.1,153.8 143.1,160.0 143.2,159.0 143.2,163.0 143.2,161.0 143.3,160.0 143.3,155.0 143.3,164.5 143.4,158.7 143.4,164.5 143.5,153.1 143.5,164.5 143.5,158.7 143.6,156.1 143.6,164.5 143.6,163.8 143.7,157.9 143.7,161.0 143.7,148.2 143.8,148.9 143.8,164.5 143.9,164.5 143.9,163.0 143.9,158.7 144.0,159.6 144.0,158.1 144.0,148.6 144.1,164.5 144.1,157.6 144.2,164.5 144.2,156.6 144.2,158.7 144.3,161.9 144.3,164.0 144.3,155.5 144.4,156.4 144.4,163.2 144.5,159.4 144.5,160.3 144.5,160.7 144.6,145.7 144.6,156.6 144.6,151.0 144.7,164.5 144.7,147.9 144.7,151.6 144.8,164.5 144.8,158.2 144.9,162.0 144.9,162.1 144.9,161.5 145.0,164.5 145.0,160.5 145.0,153.4 145.1,156.8 145.1,164.1 145.2,164.5 145.2,147.4 145.2,147.3 145.3,155.2 145.3,164.4 145.3,159.1 145.4,164.5 145.4,145.2 145.4,155.6 145.5,156.9 145.5,160.6 145.6,161.9 145.6,164.5 145.6,147.9 145.7,159.7 145.7,164.5 145.7,154.4 145.8,157.3 145.8,156.8 145.9,159.0 145.9,157.5 145.9,164.3 146.0,159.7 146.0,162.5 146.0,164.5 146.1,150.5 146.1,155.8 146.2,149.0 146.2,155.9 146.2,148.0 146.3,153.8 146.3,163.2 146.3,155.2 146.4,148.9 146.4,157.2 146.4,164.5 146.5,160.6 146.5,162.1 146.6,164.5 146.6,161.2 146.6,164.5 146.7,148.9 146.7,164.5 146.7,164.5 146.8,155.5 146.8,160.7 146.9,159.9 146.9,148.2 146.9,156.0 147.0,164.5 147.0,164.1 147.0,149.7 147.1,152.2 147.1,154.6 147.1,154.7 147.2,155.2 147.2,155.4 147.3,157.6 147.3,163.2 147.3,150.7 147.4,144.6 147.4,164.5 147.4,150.4 147.5,143.7 147.5,163.4 147.6,162.5 147.6,149.4 147.6,143.2 147.7,164.5 147.7,164.5 147.7,159.1 147.8,164.5 147.8,150.3 147.8,147.3 147.9,138.3 147.9,137.1 148.0,143.5 148.0,159.6 148.0,153.2 148.1,156.2 148.1,157.3 148.1,160.1 148.2,158.5 148.2,158.0 148.3,146.4 148.3,155.4 148.3,144.1 148.4,144.4 148.4,153.7 148.4,142.2 148.5,148.7 148.5,148.5 148.6,153.1 148.6,144.8 148.6,144.5 148.7,160.3 148.7,146.4 148.7,136.7 148.8,157.1 148.8,155.9 148.8,147.8 148.9,138.7 148.9,140.8 149.0,148.4 149.0,157.6 149.0,151.8 149.1,152.2 149.1,133.0 149.1,141.1 149.2,153.9 149.2,159.5 149.3,141.6 149.3,132.4 149.3,150.0 149.4,153.7 149.4,135.2 149.4,141.2 149.5,154.5 149.5,144.9 149.5,154.3 149.6,140.9 149.6,145.9 149.7,155.1 149.7,132.7 149.7,146.5 149.8,135.1 149.8,151.4 149.8,155.7 149.9,139.3 149.9,150.3 150.0,145.3 150.0,136.1 150.0,149.8 150.1,143.4 150.1,136.8 150.1,123.9 150.2,130.4 150.2,128.8 150.3,157.9 150.3,139.4 150.3,140.9 150.4,158.0 150.4,139.5 150.4,128.5 150.5,139.4 150.5,144.9 150.5,133.3 150.6,125.5 150.6,142.2 150.7,143.8 150.7,131.3 150.7,120.4 150.8,151.6 150.8,156.1 150.8,155.7 150.9,134.4 150.9,140.9 151.0,131.2 151.0,144.5 151.0,141.2 151.1,149.3 151.1,139.4 151.1,132.5 151.2,140.0 151.2,134.7 151.2,140.3 151.3,138.6 151.3,124.7 151.4,131.1 151.4,133.6 151.4,133.8 151.5,143.1 151.5,138.8 151.5,138.4 151.6,134.2 151.6,119.9 151.7,131.9 151.7,122.9 151.7,118.3 151.8,125.6 151.8,120.9 151.8,126.7 151.9,129.2 151.9,137.0 152.0,126.3 152.0,123.2 152.0,135.8 152.1,132.7 152.1,110.6 152.1,122.1 152.2,138.7 152.2,123.4 152.2,111.5 152.3,134.3 152.3,124.3 152.4,133.4 152.4,146.5 152.4,126.1 152.5,127.6 152.5,131.8 152.5,140.1 152.6,124.2 152.6,128.8 152.7,120.7 152.7,128.7 152.7,126.3 152.8,127.0 152.8,122.4 152.8,127.7 152.9,118.3 152.9,123.4 152.9,120.9 153.0,115.1 153.0,111.0 153.1,120.2 153.1,126.0 153.1,120.4 153.2,126.4 153.2,136.1 153.2,105.3 153.3,127.0 153.3,121.2 153.4,122.4 153.4,126.5 153.4,124.3 153.5,116.0 153.5,117.5 153.5,122.4 153.6,121.5 153.6,107.6 153.7,125.1 153.7,122.4 153.7,113.7 153.8,107.2 153.8,112.8 153.8,114.1 153.9,120.8 153.9,117.5 153.9,111.9 154.0,111.8 154.0,109.4 154.1,126.1 154.1,111.4 154.1,124.1 154.2,128.6 154.2,125.5 154.2,128.4 154.3,125.5 154.3,111.8 154.4,109.9 154.4,125.5 154.4,115.9 154.5,119.0 154.5,121.4 154.5,118.7 154.6,114.1 154.6,107.4 154.6,120.3 154.7,112.2 154.7,106.2 154.8,120.0 154.8,106.2 154.8,116.2 154.9,120.0 154.9,116.5 154.9,109.6 155.0,125.5 155.0,128.4 155.1,112.5 155.1,105.1 155.1,110.6 155.2,123.9 155.2,129.9 155.2,122.1 155.3,119.4 155.3,134.7 155.4,121.2 155.4,109.1 155.4,117.0 155.5,136.3 155.5,124.9 155.5,120.1 155.6,117.5 155.6,118.2 155.6,114.0 155.7,122.4 155.7,124.2 155.8,134.2 155.8,114.3 155.8,117.0 155.9,122.4 155.9,116.4 155.9,127.5 156.0,124.4 156.0,127.6 156.1,118.3 156.1,122.8 156.1,119.4 156.2,117.6 156.2,122.2 156.2,126.7 156.3,126.0 156.3,118.7 156.3,97.3 156.4,118.5 156.4,123.8 156.5,137.6 156.5,126.9 156.5,119.5 156.6,103.6 156.6,119.2 156.6,110.3 156.7,123.8 156.7,119.0 156.8,118.8 156.8,121.3 156.8,115.6 156.9,116.1 156.9,121.8 156.9,120.4 157.0,125.8 157.0,122.7 157.0,113.7 157.1,117.4 157.1,124.2 157.2,128.3 157.2,128.6 157.2,112.0 157.3,122.6 157.3,122.7 157.3,110.9 157.4,116.0 157.4,113.3 157.5,112.4 157.5,118.1 157.5,106.0 157.6,119.8 157.6,124.8 157.6,117.4 157.7,125.2 157.7,116.9 157.8,112.8 157.8,132.4 157.8,127.8 157.9,116.8 157.9,114.5 157.9,116.8 158.0,107.7 158.0,127.0 158.0,128.6 158.1,128.1 158.1,124.2 158.2,123.5 158.2,129.3 158.2,118.8 158.3,118.8 158.3,121.1 158.3,122.6 158.4,119.1 158.4,125.9 158.5,123.3 158.5,122.6 158.5,117.9 158.6,123.1 158.6,121.0 158.6,112.6 158.7,115.0 158.7,124.4 158.7,121.6 158.8,128.6 158.8,120.8 158.9,113.0 158.9,116.6 158.9,122.5 159.0,130.6 159.0,120.6 159.0,123.0 159.1,111.2 159.1,103.7 159.2,111.8 159.2,110.5 159.2,120.9 159.3,119.2 159.3,123.2 159.3,109.1 159.4,129.5 159.4,129.0 159.5,117.0 159.5,122.9 159.5,119.1 159.6,129.7 159.6,127.4 159.6,111.5 159.7,110.5 159.7,117.4 159.7,118.9 159.8,123.1 159.8,120.2 159.9,115.3 159.9,120.9 159.9,109.9 160.0,111.6 160.0,122.5 160.0,109.2 160.1,113.6 160.1,125.7 160.2,118.9 160.2,120.4 160.2,133.1 160.3,120.2 160.3,114.5 160.3,107.7 160.4,123.8 160.4,119.4 160.4,113.0 160.5,126.4 160.5,116.8 160.6,104.9 160.6,116.7 160.6,114.0 160.7,119.8 160.7,121.7 160.7,138.2 160.8,114.7 160.8,122.5 160.9,124.6 160.9,120.7 160.9,110.6 161.0,118.2 161.0,120.2 161.0,111.3 161.1,128.0 161.1,123.5 161.2,115.6 161.2,109.8 161.2,123.7 161.3,120.6 161.3,127.7 161.3,126.3 161.4,122.1 161.4,128.6 161.4,100.4 161.5,119.9 161.5,114.7 161.6,105.2 161.6,119.4 161.6,125.0 161.7,122.4 161.7,121.8 161.7,114.1 161.8,113.9 161.8,122.3 161.9,116.1 161.9,117.9 161.9,127.0 162.0,110.2 162.0,112.4 162.0,116.6 162.1,120.2 162.1,118.5 162.1,121.4 162.2,124.4 162.2,130.3 162.3,127.8 162.3,121.8 162.3,136.4 162.4,114.6 162.4,132.2 162.4,116.6 162.5,111.6 162.5,115.6 162.6,122.2 162.6,124.0 162.6,125.3 162.7,113.0 162.7,117.4 162.7,123.9 162.8,112.7 162.8,121.1 162.9,119.8 162.9,117.6 162.9,120.3 163.0,121.4 163.0,117.2 163.0,119.7 163.1,122.9 163.1,128.4 163.1,122.1 163.2,124.7 163.2,123.5 163.3,122.7 163.3,130.6 163.3,117.2 163.4,137.5 163.4,135.1 163.4,110.8 163.5,118.5 163.5,132.6 163.6,103.2 163.6,118.6 163.6,119.2 163.7,128.2 163.7,120.2 163.7,122.5 163.8,117.0 163.8,114.0 163.8,119.1 163.9,124.8 163.9,123.9 164.0,124.5 164.0,126.3 164.0,105.9 164.1,110.4 164.1,115.9 164.1,111.3 164.2,116.6 164.2,110.4 164.3,123.1 164.3,120.6 164.3,112.3 164.4,119.5 164.4,129.3 164.4,118.1 164.5,110.8 164.5,116.1 164.6,123.8 164.6,121.3 164.6,113.6 164.7,114.2 164.7,110.6 164.7,131.7 164.8,126.4 164.8,127.2 164.8,110.3 164.9,104.4 164.9,119.2 165.0,103.4 165.0,122.0 165.0,116.4 165.1,117.5 165.1,127.7 165.1,106.2 165.2,118.2 165.2,120.3 165.3,120.8 165.3,121.7 165.3,121.2 165.4,113.7 165.4,120.4 165.4,123.5 165.5,119.8 165.5,121.5 165.5,123.4 165.6,114.9 165.6,115.6 165.7,122.7 165.7,115.9 165.7,120.7 165.8,125.2 165.8,118.1 165.8,119.2 165.9,123.1 165.9,123.6 166.0,128.7 166.0,126.8 166.0,137.0 166.1,124.6 166.1,116.3 166.1,124.9 166.2,115.4 166.2,119.3 166.2,120.1 166.3,120.4 166.3,110.0 166.4,118.9 166.4,116.6 166.4,118.1 166.5,121.2 166.5,125.0 166.5,126.5 166.6,107.9 166.6,120.0 166.7,137.4 166.7,131.4 166.7,120.4 166.8,126.3 166.8,128.8 166.8,121.5 166.9,125.6 166.9,125.9 167.0,121.4 167.0,104.1 167.0,127.3 167.1,121.1 167.1,112.0 167.1,123.6 167.2,118.0 167.2,124.4 167.2,129.0 167.3,117.5 167.3,118.6 167.4,121.5 167.4,118.5 167.4,123.1 167.5,114.6 167.5,115.9 167.5,122.7 167.6,119.2 167.6,122.5 167.7,126.7 167.7,119.9 167.7,123.7 167.8,124.8 167.8,120.7 167.8,121.0 167.9,119.1 167.9,115.8 167.9,118.5 168.0,122.2 168.0,115.2 168.1,128.4 168.1,129.6 168.1,117.4 168.2,128.7 168.2,125.8 168.2,117.6 168.3,127.8 168.3,114.3 168.4,126.4 168.4,113.7 168.4,108.7 168.5,121.9 168.5,121.3 168.5,117.6 168.6,127.5 168.6,121.3 168.7,110.4 168.7,118.5 168.7,116.0 168.8,125.7 168.8,127.0 168.8,116.9 168.9,125.1 168.9,129.3 168.9,123.6 169.0,127.4 169.0,116.3 169.1,116.6 169.1,117.6 169.1,118.2 169.2,109.6 169.2,116.3 169.2,109.5 169.3,116.3 169.3,106.5 169.4,120.2 169.4,115.7 169.4,114.2 169.5,120.5 169.5,120.5 169.5,105.5 169.6,121.9 169.6,118.9 169.6,115.4 169.7,132.0 169.7,111.5 169.8,117.2 169.8,128.5 169.8,119.4 169.9,115.0 169.9,104.4 169.9,123.2 170.0,111.7 170.0,122.4 170.1,114.8 170.1,122.9 170.1,131.3 170.2,112.8 170.2,122.9 170.2,128.4 170.3,115.8 170.3,111.2 170.4,115.8 170.4,130.7 170.4,124.4 170.5,122.5 170.5,124.9 170.5,110.1 170.6,107.1 170.6,109.5 170.6,112.8 170.7,122.8 170.7,124.2 170.8,118.7 170.8,118.0 170.8,116.9 170.9,124.7 170.9,123.5 170.9,111.5 171.0,125.6 171.0,107.5 171.1,112.8 171.1,120.9 171.1,123.0 171.2,123.6 171.2,130.2 171.2,117.5 171.3,109.7 171.3,111.0 171.3,102.7 171.4,120.5 171.4,126.2 171.5,110.1 171.5,113.0 171.5,115.4 171.6,122.8 171.6,120.8 171.6,109.0 171.7,127.8 171.7,110.4 171.8,118.1 171.8,110.0 171.8,123.3 171.9,124.7 171.9,118.4 171.9,118.6 172.0,125.3 172.0,112.4 172.1,114.8 172.1,121.7 172.1,119.6 172.2,122.1 172.2,122.8 172.2,126.8 172.3,112.4 172.3,113.9 172.3,122.2 172.4,123.7 172.4,119.6 172.5,113.7 172.5,114.3 172.5,123.8 172.6,119.2 172.6,122.9 172.6,116.5 172.7,116.3 172.7,116.2 172.8,119.1 172.8,120.8 172.8,117.7 172.9,128.1 172.9,120.1 172.9,123.8 173.0,126.1 173.0,114.6 173.0,111.8 173.1,115.2 173.1,117.6 173.2,129.9 173.2,134.9 173.2,130.7 173.3,124.3 173.3,131.1 173.3,129.8 173.4,113.0 173.4,122.5 173.5,119.7 173.5,108.1 173.5,122.1 173.6,116.7 173.6,128.6 173.6,102.6 173.7,127.5 173.7,119.0 173.7,120.0 173.8,129.2 173.8,112.8 173.9,129.4 173.9,122.3 173.9,116.5 174.0,120.2 174.0,123.5 174.0,110.0 174.1,126.0 174.1,125.9 174.2,123.8 174.2,115.8 174.2,124.0 174.3,116.7 174.3,121.2 174.3,120.2 174.4,106.1 174.4,124.6 174.5,118.7 174.5,124.1 174.5,129.3 174.6,117.1 174.6,129.4 174.6,122.4 174.7,118.3 174.7,124.7 174.7,111.7 174.8,111.3 174.8,109.8 174.9,111.5 174.9,125.7 174.9,118.3 175.0,114.4 175.0,127.5 175.0,121.4 175.1,108.8 175.1,118.8 175.2,123.1 175.2,118.0 175.2,123.8 175.3,123.1 175.3,116.1 175.3,114.3 175.4,124.1 175.4,139.2 175.4,120.9 175.5,107.0 175.5,112.1 175.6,104.3 175.6,120.1 175.6,113.2 175.7,114.4 175.7,125.9 175.7,111.5 175.8,126.0 175.8,135.2 175.9,113.7 175.9,124.3 175.9,124.7 176.0,112.9 176.0,124.2 176.0,107.0 176.1,115.2 176.1,130.2 176.2,116.1 176.2,120.1 176.2,121.8 176.3,105.3 176.3,124.0 176.3,121.8 176.4,121.0 176.4,123.4 176.4,124.1 176.5,126.5 176.5,121.9 176.6,116.4 176.6,129.1 176.6,122.5 176.7,129.6 176.7,130.7 176.7,125.5 176.8,114.4 176.8,113.3 176.9,120.4 176.9,124.0 176.9,121.9 177.0,113.2 177.0,117.7 177.0,114.3 177.1,123.1 177.1,113.0 177.1,125.1 177.2,115.6 177.2,115.5 177.3,104.7 177.3,127.3 177.3,128.5 177.4,119.7 177.4,127.3 177.4,120.0 177.5,125.2 177.5,125.3 177.6,121.1 177.6,119.8 177.6,121.9 177.7,129.3 177.7,106.2 177.7,111.7 177.8,116.2 177.8,130.0 177.9,113.1 177.9,130.4 177.9,133.3 178.0,119.0 178.0,126.4 178.0,123.6 178.1,113.9 178.1,114.2 178.1,106.4 178.2,126.8 178.2,132.1 178.3,113.1 178.3,117.0 178.3,124.2 178.4,127.4 178.4,121.9 178.4,106.1 178.5,113.7 178.5,111.2 178.6,107.5 178.6,128.3 178.6,127.9 178.7,130.7 178.7,122.6 178.7,128.5 178.8,129.6 178.8,127.3 178.8,119.6 178.9,116.9 178.9,117.9 179.0,125.8 179.0,110.6 179.0,122.4 179.1,122.5 179.1,127.5 179.1,116.9 179.2,118.2 179.2,122.4 179.3,122.6 179.3,114.1 179.3,118.1 179.4,123.3 179.4,120.6 179.4,110.9 179.5,118.9 179.5,125.4 179.6,125.6 179.6,126.4 179.6,118.6 179.7,104.8 179.7,117.8 179.7,114.5 179.8,117.2 179.8,125.7 179.8,113.4 179.9,118.4 179.9,112.0 180.0,111.6 180.0,104.3 180.0,111.4 180.1,104.1 180.1,123.3 180.1,117.6 180.2,98.4 180.2,117.7 180.3,106.4 180.3,105.1 180.3,119.7 180.4,114.1 180.4,108.0 180.4,111.7 180.5,108.6 180.5,99.8 180.5,116.5 180.6,106.1 180.6,106.4 180.7,92.8 180.7,108.9 180.7,106.0 180.8,110.1 180.8,110.9 180.8,95.8 180.9,111.0 180.9,97.6 181.0,105.6 181.0,99.0 181.0,112.4 181.1,94.0 181.1,89.3 181.1,101.4 181.2,87.2 181.2,97.1 181.3,104.4 181.3,91.0 181.3,102.2 181.4,102.1 181.4,100.5 181.4,95.5 181.5,94.7 181.5,89.1 181.5,97.8 181.6,101.8 181.6,87.2 181.7,91.5 181.7,94.6 181.7,97.4 181.8,95.7 181.8,91.0 181.8,86.1 181.9,88.3 181.9,98.2 182.0,81.2 182.0,88.5 182.0,89.4 182.1,86.4 182.1,84.4 182.1,77.3 182.2,82.8 182.2,89.0 182.2,89.7 182.3,66.2 182.3,75.8 182.4,77.2 182.4,79.2 182.4,77.3 182.5,73.7 182.5,72.1 182.5,71.8 182.6,67.0 182.6,76.3 182.7,67.9 182.7,70.2 182.7,60.7 182.8,66.0 182.8,66.4 182.8,67.2 182.9,62.2 182.9,64.9 182.9,59.8 183.0,62.0 183.0,56.9 183.1,56.6 183.1,59.9 183.1,56.3 183.2,59.2 183.2,54.6 183.2,54.5 183.3,55.8 183.3,59.8 183.4,58.1 183.4,44.7 183.4,50.3 183.5,59.2 183.5,47.5 183.5,49.6 183.6,59.2 183.6,45.1 183.7,59.2 183.7,49.0 183.7,56.2 183.8,50.0 183.8,46.6 183.8,57.5 183.9,47.3 183.9,73.2 183.9,51.4 184.0,59.1 184.0,49.0 184.1,61.3 184.1,72.8 184.1,67.2 184.2,66.3 184.2,70.4 184.2,71.5 184.3,64.9 184.3,63.5 184.4,65.1 184.4,74.0 184.4,70.4 184.5,74.5 184.5,74.2 184.5,76.6 184.6,73.3 184.6,78.3 184.6,82.4 184.7,88.4 184.7,81.3 184.8,80.8 184.8,84.1 184.8,68.5 184.9,89.3 184.9,92.3 184.9,84.1 185.0,90.3 185.0,86.8 185.1,81.3 185.1,93.0 185.1,91.3 185.2,91.0 185.2,96.7 185.2,101.0 185.3,91.5 185.3,99.7 185.4,96.6 185.4,103.1 185.4,97.1 185.5,96.9 185.5,90.4 185.5,110.5 185.6,108.9 185.6,91.6 185.6,96.9 185.7,111.4 185.7,108.0 185.8,112.2 185.8,116.6 185.8,104.6 185.9,113.1 185.9,108.3 185.9,115.0 186.0,105.2 186.0,116.8 186.1,122.0 186.1,123.0 186.1,116.4 186.2,120.0 186.2,123.6 186.2,123.2 186.3,122.9 186.3,133.6 186.3,124.0 186.4,130.7 186.4,128.0 186.5,127.8 186.5,129.0 186.5,124.4 186.6,135.3 186.6,133.9 186.6,141.5 186.7,133.8 186.7,138.7 186.8,137.5 186.8,135.1 186.8,135.6 186.9,138.4 186.9,142.1 186.9,145.0 187.0,141.4 187.0,136.3 187.1,139.0 187.1,142.1 187.1,140.4 187.2,147.2 187.2,149.4 187.2,144.0 187.3,145.4 187.3,144.4 187.3,150.6 187.4,159.2 187.4,155.1 187.5,149.1 187.5,158.0 187.5,157.7 187.6,156.7 187.6,151.9 187.6,162.0 187.7,159.2 187.7,160.8 187.8,152.5 187.8,161.6 187.8,157.0 187.9,147.8 187.9,163.3 187.9,158.3 188.0,163.7 188.0,153.0 188.0,156.8 188.1,150.9 188.1,159.5 188.2,164.5 188.2,162.8 188.2,147.8 188.3,148.5 188.3,164.5 188.3,160.5 188.4,159.1 188.4,155.7 188.5,164.5 188.5,152.3 188.5,154.7 188.6,160.7 188.6,146.2 188.6,153.4 188.7,154.5 188.7,155.0 188.8,163.7 188.8,156.3 188.8,164.5 188.9,159.2 188.9,150.3 188.9,146.5 189.0,164.5 189.0,152.9 189.0,163.8 189.1,159.7 189.1,154.9 189.2,160.5 189.2,161.5 189.2,164.5 189.3,146.0 189.3,158.1 189.3,161.6 189.4,162.3 189.4,158.8 189.5,152.8 189.5,164.5 189.5,150.8 189.6,160.0 189.6,164.5 189.6,156.4 189.7,156.3 189.7,156.2 189.7,158.8 189.8,152.1 189.8,155.6 189.9,164.5 189.9,151.7 189.9,160.6 190.0,159.4 190.0,164.5 190.0,147.7 190.1,164.4 190.1,164.5 190.2,156.0 190.2,149.3 190.2,155.8 190.3,164.5 190.3,159.8 190.3,164.5 190.4,161.5 190.4,155.6 190.5,158.6 190.5,154.6 190.5,158.3 190.6,159.6 190.6,156.0 190.6,160.1 190.7,162.0 190.7,153.6 190.7,157.0 190.8,158.6 190.8,164.5 190.9,164.5 190.9,160.2 190.9,164.5 191.0,152.2 191.0,162.6 191.0,161.4 191.1,164.5 191.1,156.2 191.2,164.5 191.2,155.9 191.2,150.3 191.3,159.2 191.3,156.7 191.3,156.8 191.4,156.4 191.4,162.3 191.4,162.6 191.5,164.5 191.5,161.4 191.6,158.6 191.6,154.4 191.6,164.5 191.7,164.5 191.7,161.8 191.7,163.2 191.8,157.9 191.8,164.5 191.9,158.0 191.9,164.1 191.9,151.4 192.0,156.6 192.0,162.7 192.0,159.8 192.1,163.1 192.1,158.5 192.1,164.5 192.2,160.2 192.2,159.0 192.3,162.1 192.3,163.7 192.3,159.0 192.4,162.1 192.4,153.0 192.4,163.7 192.5,154.6 192.5,161.4 192.6,161.3 192.6,159.8 192.6,157.8 192.7,154.6 192.7,154.4 192.7,149.9 192.8,155.1 192.8,154.1 192.9,156.3 192.9,154.6 192.9,157.9 193.0,157.6 193.0,158.0 193.0,157.6 193.1,162.4 193.1,164.0 193.1,156.9 193.2,156.4 193.2,160.0 193.3,148.9 193.3,164.5 193.3,163.1 193.4,162.3 193.4,159.8 193.4,162.4 193.5,150.4 193.5,152.3 193.6,159.7 193.6,152.4 193.6,156.1 193.7,163.4 193.7,161.5 193.7,156.1 193.8,146.2 193.8,158.8 193.8,164.5 193.9,164.5 193.9,148.6 194.0,163.1 194.0,154.9 194.0,156.0 194.1,156.6 194.1,164.5 194.1,164.5 194.2,149.5 194.2,164.3 194.3,159.2 194.3,164.5 194.3,164.5 194.4,151.3 194.4,164.5 194.4,149.5 194.5,152.0 194.5,164.5 194.6,159.8 194.6,164.5 194.6,154.1 194.7,164.5 194.7,157.3 194.7,164.5 194.8,161.8 194.8,155.5 194.8,148.4 194.9,157.7 194.9,150.0 195.0,155.2 195.0,164.5 195.0,152.9 195.1,164.5 195.1,164.5 195.1,160.0 195.2,164.3 195.2,152.9 195.3,154.3 195.3,164.5 195.3,158.9 195.4,158.0 195.4,153.7 195.4,160.5 195.5,162.2 195.5,164.5 195.5,162.7 195.6,153.1 195.6,155.3 195.7,162.0 195.7,156.0 195.7,157.0 195.8,146.7 195.8,164.5 195.8,152.7 195.9,161.1 195.9,154.2 196.0,164.5 196.0,161.4 196.0,132.1 196.1,164.5 196.1,153.9 196.1,146.8 196.2,155.5 196.2,163.4 196.3,152.1 196.3,158.4 196.3,152.3 196.4,161.4 196.4,154.0 196.4,152.5 196.5,162.9 196.5,162.1 196.5,164.5 196.6,153.2 196.6,151.0 196.7,159.1 196.7,154.7 196.7,164.5 196.8,164.5 196.8,161.2 196.8,164.5 196.9,161.0 196.9,147.6 197.0,153.1 197.0,161.6 197.0,156.8 197.1,164.5 197.1,164.5 197.1,164.5 197.2,159.4 197.2,155.3 197.2,163.0 197.3,162.7 197.3,156.0 197.4,157.4 197.4,156.6 197.4,152.9 197.5,164.5 197.5,158.2 197.5,162.1 197.6,161.2 197.6,163.9 197.7,164.5 197.7,164.1 197.7,156.9 197.8,152.2 197.8,141.6 197.8,164.5 197.9,164.5 197.9,164.5 198.0,161.6 198.0,151.8 198.0,156.2 198.1,160.5 198.1,157.4 198.1,164.5 198.2,152.0 198.2,161.9 198.2,149.4 198.3,146.5 198.3,153.0 198.4,164.5 198.4,149.4 198.4,151.4 198.5,162.9 198.5,164.5 198.5,153.9 198.6,163.3 198.6,155.0 198.7,163.8 198.7,160.6 198.7,144.0 198.8,158.8 198.8,157.4 198.8,159.2 198.9,157.4 198.9,161.8 198.9,164.5 199.0,157.1 199.0,160.7 199.1,155.8 199.1,149.7 199.1,148.8 199.2,152.4 199.2,157.8 199.2,159.7 199.3,149.7 199.3,158.2 199.4,157.4 199.4,156.1 199.4,153.6 199.5,160.5 199.5,162.8 199.5,156.5 199.6,149.6 199.6,159.8 199.7,156.1 199.7,154.7 199.7,164.5 199.8,161.1 199.8,157.4 199.8,164.5 199.9,163.5 199.9,162.5 199.9,150.6 200.0,164.5 200.0,156.7 200.1,149.5 200.1,164.5 200.1,148.2 200.2,159.1 200.2,164.5 200.2,163.3 200.3,145.5 200.3,163.0 200.4,162.6 200.4,156.0 200.4,156.7 200.5,164.5 200.5,163.4 200.5,149.8 200.6,152.7 200.6,149.0 200.6,157.2 200.7,160.6 200.7,153.2 200.8,150.9 200.8,164.5 200.8,162.5 200.9,159.0 200.9,162.1 200.9,154.8 201.0,163.8 201.0,160.5 201.1,164.5 201.1,160.2 201.1,163.3 201.2,164.5 201.2,149.2 201.2,164.5 201.3,155.9 201.3,164.5 201.3,156.1 201.4,162.3 201.4,159.0 201.5,160.3 201.5,161.2 201.5,159.7 201.6,162.4 201.6,159.5 201.6,147.9 201.7,149.0 201.7,153.1 201.8,164.5 201.8,158.0 201.8,164.5 201.9,147.3 201.9,158.3 201.9,162.1 202.0,161.2 202.0,156.3 202.1,158.5 202.1,163.6 202.1,152.3 202.2,163.7 202.2,164.2 202.2,164.5 202.3,148.1 202.3,151.4 202.3,159.7 202.4,163.5 202.4,145.6 202.5,162.5 202.5,164.5 202.5,161.4 202.6,164.5 202.6,158.2 202.6,164.5 202.7,162.6 202.7,155.0 202.8,163.0 202.8,154.2 202.8,153.1 202.9,162.1 202.9,158.6 202.9,156.4 203.0,164.5 203.0,164.5 203.0,151.0 203.1,162.0 203.1,162.0 203.2,164.5 203.2,154.4 203.2,160.3 203.3,150.7 203.3,158.9 203.3,149.7 203.4,150.4 203.4,140.0 203.5,164.5 203.5,157.1 203.5,159.3 203.6,152.7 203.6,164.5 203.6,151.7 203.7,154.5 203.7,158.8 203.8,146.2 203.8,149.5 203.8,164.4 203.9,159.6 203.9,159.8 203.9,161.2 204.0,150.2 204.0,151.6 204.0,164.5 204.1,151.2 204.1,149.2 204.2,159.2 204.2,160.0 204.2,164.5 204.3,158.9 204.3,155.0 204.3,164.5 204.4,164.5 204.4,164.5 204.5,162.2 204.5,156.3 204.5,158.5 204.6,158.4 204.6,163.1 204.6,152.0 204.7,154.2 204.7,158.1 204.7,162.8 204.8,164.5 204.8,156.1 204.9,157.4 204.9,156.1 204.9,149.9 205.0,153.1 205.0,164.5 205.0,159.4 205.1,160.2 205.1,152.5 205.2,161.6 205.2,156.5 205.2,152.5 205.3,164.5 205.3,150.5 205.3,155.2 205.4,158.6 205.4,164.5 205.5,161.2 205.5,163.7 205.5,157.6 205.6,158.3 205.6,157.1 205.6,155.2 205.7,160.4 205.7,153.2 205.7,164.5 205.8,151.7 205.8,150.0 205.9,154.1 205.9,151.2 205.9,153.0 206.0,161.2 206.0,164.0 206.0,146.1 206.1,162.2 206.1,160.8 206.2,157.3 206.2,164.5 206.2,164.5 206.3,156.5 206.3,160.4 206.3,164.5 206.4,162.4 206.4,163.9 206.4,149.3 206.5,157.9 206.5,157.2 206.6,150.9 206.6,163.9 206.6,158.0 206.7,160.3 206.7,155.3 206.7,157.3 206.8,151.2 206.8,157.4 206.9,151.1 206.9,163.2 206.9,148.7 207.0,159.7 207.0,162.6 207.0,156.4 207.1,160.7 207.1,159.3 207.2,163.3 207.2,157.2 207.2,161.8 207.3,157.9 207.3,155.3 207.3,164.1 207.4,162.8 207.4,157.3 207.4,159.7 207.5,164.5 207.5,155.1 207.6,149.4 207.6,163.2 207.6,147.8 207.7,155.5 207.7,144.6 207.7,162.8 207.8,163.6 207.8,157.6 207.9,155.2 207.9,164.2 207.9,164.5 208.0,158.1 208.0,153.7 208.0,162.3 208.1,156.0 208.1,159.5 208.1,164.5 208.2,162.3 208.2,153.7 208.3,154.7 208.3,152.6 208.3,152.6 208.4,160.6 208.4,159.8 208.4,154.2 208.5,145.3 208.5,146.0 208.6,156.6 208.6,155.7 208.6,163.2 208.7,147.6 208.7,155.2 208.7,159.9 208.8,163.4 208.8,146.7 208.8,164.5 208.9,160.7 208.9,158.4 209.0,161.0 209.0,162.4 209.0,154.5 209.1,150.0 209.1,153.0 209.1,157.5 209.2,152.6 209.2,159.3 209.3,143.7 209.3,152.8 209.3,154.4 209.4,162.5 209.4,158.8 209.4,152.2 209.5,150.8 209.5,162.0 209.6,151.3 209.6,152.2 209.6,152.5 209.7,155.6 209.7,152.4 209.7,155.4 209.8,162.0 209.8,152.0 209.8,164.5 209.9,157.1 209.9,161.2 210.0,155.0 210.0,150.6 210.0,159.2 210.1,159.8 210.1,157.1 210.1,157.2 210.2,152.7 210.2,157.7 210.3,149.7 210.3,164.5 210.3,146.4 210.4,149.7 210.4,146.3 210.4,158.7 210.5,152.2 210.5,151.7 210.5,156.2 210.6,137.6 210.6,158.1 210.7,161.2 210.7,150.2 210.7,146.0 210.8,156.8 210.8,157.4 210.8,160.0 210.9,155.1 210.9,163.0 211.0,153.7 211.0,158.0 211.0,161.5 211.1,158.5 211.1,156.5 211.1,163.8 211.2,158.7 211.2,141.9 211.3,156.6 211.3,155.7 211.3,155.5 211.4,155.1 211.4,159.1 211.4,141.9 211.5,148.6 211.5,158.5 211.5,164.5 211.6,156.8 211.6,155.0 211.7,152.9 211.7,145.5 211.7,150.0 211.8,155.5 211.8,148.7 211.8,139.7 211.9,164.5 211.9,156.8 212.0,138.5 212.0,153.6 212.0,151.0 212.1,163.2 212.1,161.8 212.1,164.3 212.2,151.2 212.2,148.5 212.2,155.2 212.3,153.7 212.3,143.1 212.4,150.3 212.4,136.9 212.4,155.2 212.5,153.8 212.5,149.1 212.5,157.7 212.6,154.7 212.6,162.5 212.7,144.8 212.7,140.8 212.7,152.5 212.8,157.5 212.8,152.4 212.8,156.0 212.9,159.3 212.9,152.7 213.0,153.8 213.0,153.3 213.0,149.1 213.1,160.1 213.1,144.9 213.1,144.8 213.2,150.9 213.2,162.2 213.2,160.2 213.3,164.5 213.3,159.4 213.4,148.8 213.4,148.6 213.4,157.6 213.5,156.6 213.5,154.9 213.5,159.7 213.6,145.2 213.6,154.8 213.7,152.0 213.7,160.8 213.7,151.8 213.8,158.0 213.8,160.8 213.8,156.8 213.9,143.7 213.9,148.9 213.9,162.2 214.0,155.9 214.0,151.3 214.1,154.2 214.1,152.8 214.1,149.8 214.2,154.8 214.2,145.3 214.2,153.2 214.3,153.7 214.3,149.7 214.4,148.2 214.4,164.5 214.4,152.2 214.5,158.7 214.5,153.4 214.5,150.0 214.6,158.5 214.6,149.7 214.7,156.1 214.7,151.7 214.7,159.8 214.8,146.7 214.8,156.3 214.8,154.3 214.9,146.4 214.9,149.0 214.9,142.5 215.0,151.4 215.0,155.3 215.1,151.5 215.1,152.7 215.1,156.2 215.2,152.8 215.2,153.1 215.2,156.5 215.3,155.1 215.3,154.4 215.4,140.0 215.4,150.7 215.4,154.7 215.5,150.5 215.5,152.4 215.5,148.9 215.6,145.5 215.6,145.7 215.6,145.9 215.7,156.6 215.7,146.8 215.8,155.5 215.8,142.7 215.8,151.5 215.9,156.5 215.9,163.3 215.9,147.1 216.0,151.1 216.0,156.4 216.1,164.3 216.1,144.1 216.1,157.3 216.2,153.8 216.2,146.3 216.2,154.0 216.3,136.8 216.3,145.3 216.4,151.6 216.4,152.5 216.4,152.4 216.5,151.1 216.5,148.6 216.5,149.7 216.6,142.8 216.6,141.4 216.6,150.4 216.7,137.9 216.7,137.5 216.8,141.5 216.8,149.0 216.8,153.2 216.9,159.3 216.9,156.1 216.9,148.1 217.0,144.1 217.0,152.4 217.1,145.6 217.1,148.3 217.1,157.6 217.2,158.0 217.2,151.2 217.2,161.7 217.3,143.1 217.3,134.3 217.3,162.2 217.4,146.9 217.4,158.3 217.5,157.3 217.5,161.5 217.5,146.9 217.6,153.7 217.6,146.7 217.6,140.9 217.7,151.6 217.7,152.5 217.8,150.2 217.8,151.2 217.8,155.1 217.9,143.1 217.9,149.3 217.9,159.2 218.0,153.1 218.0,148.6 218.0,143.3 218.1,164.5 218.1,146.7 218.2,133.3 218.2,138.4 218.2,160.3 218.3,153.2 218.3,145.5 218.3,137.4 218.4,158.3 218.4,139.9 218.5,136.7 218.5,141.8 218.5,142.6 218.6,141.0 218.6,150.7 218.6,137.9 218.7,148.5 218.7,133.4 218.8,138.6 218.8,135.5 218.8,136.3 218.9,149.6 218.9,144.0 218.9,159.3 219.0,124.9 219.0,142.3 219.0,144.4 219.1,146.1 219.1,151.6 219.2,148.3 219.2,143.9 219.2,144.8 219.3,151.5 219.3,155.6 219.3,151.5 219.4,149.4 219.4,123.9 219.5,147.0 219.5,129.4 219.5,150.0 219.6,155.6 219.6,152.7 219.6,136.8 219.7,150.0 219.7,149.2 219.7,136.3 219.8,142.0 219.8,148.6 219.9,121.1 219.9,135.8 219.9,149.0 220.0,137.1 220.0,127.3 220.0,137.3 220.1,150.6 220.1,129.4 220.2,137.2 220.2,130.3 220.2,142.8 220.3,144.3 220.3,131.3 220.3,134.8 220.4,135.1 220.4,129.7 220.5,146.3 220.5,139.2 220.5,140.3 220.6,131.4 220.6,142.7 220.6,137.4 220.7,124.2 220.7,126.8 220.7,126.3 220.8,127.1 220.8,134.5 220.9,136.7 220.9,137.0 220.9,115.1 221.0,133.7 221.0,122.5 221.0,132.7 221.1,143.7 221.1,123.2 221.2,137.2 221.2,130.7 221.2,132.7 221.3,135.3 221.3,151.7 221.3,138.2 221.4,138.8 221.4,124.3 221.4,130.9 221.5,130.9 221.5,133.0 221.6,130.4 221.6,122.5 221.6,140.7 221.7,132.4 221.7,116.0 221.7,133.8 221.8,137.3 221.8,130.6 221.9,124.7 221.9,119.7 221.9,122.5 222.0,128.3 222.0,120.4 222.0,114.7 222.1,125.8 222.1,129.6 222.2,123.4 222.2,122.6 222.2,116.7 222.3,117.0 222.3,120.7 222.3,139.8 222.4,119.5 222.4,116.2 222.4,137.1 222.5,124.9 222.5,136.9 222.6,132.9 222.6,111.7 222.6,130.5 222.7,136.1 222.7,126.5 222.7,118.9 222.8,113.8 222.8,137.1 222.9,126.6 222.9,128.0 222.9,125.7 223.0,120.7 223.0,137.6 223.0,120.7 223.1,132.7 223.1,109.3 223.1,123.4 223.2,126.5 223.2,122.8 223.3,110.2 223.3,124.5 223.3,121.9 223.4,119.1 223.4,133.6 223.4,123.2 223.5,125.5 223.5,124.1 223.6,107.7 223.6,124.3 223.6,104.3 223.7,131.5 223.7,109.6 223.7,132.6 223.8,126.2 223.8,114.1 223.9,115.7 223.9,138.8 223.9,111.7 224.0,112.7 224.0,132.4 224.0,127.8 224.1,128.9 224.1,123.7 224.1,112.7 224.2,134.8 224.2,117.8 224.3,137.3 224.3,118.4 224.3,129.2 224.4,131.0 224.4,106.9 224.4,118.7 224.5,118.6 224.5,124.9 224.6,124.6 224.6,118.4 224.6,103.8 224.7,110.2 224.7,128.2 224.7,116.1 224.8,125.1 224.8,125.5 224.8,129.4 224.9,122.0 224.9,126.1 225.0,117.5 225.0,111.9 225.0,124.2 225.1,121.0 225.1,114.6 225.1,111.6 225.2,122.0 225.2,117.3 225.3,115.3 225.3,119.9 225.3,108.2 225.4,122.8 225.4,121.4 225.4,123.3 225.5,126.8 225.5,121.7 225.6,118.4 225.6,120.6 225.6,118.8 225.7,121.7 225.7,129.9 225.7,120.5 225.8,116.3 225.8,130.7 225.8,117.6 225.9,128.7 225.9,126.3 226.0,113.8 226.0,102.5 226.0,122.9 226.1,123.2 226.1,120.3 226.1,121.8 226.2,118.6 226.2,131.0 226.3,122.5 226.3,126.1 226.3,120.3 226.4,129.3 226.4,118.3 226.4,119.7 226.5,122.1 226.5,120.2 226.5,126.5 226.6,131.2 226.6,124.3 226.7,120.3 226.7,124.8 226.7,110.1 226.8,125.5 226.8,126.2 226.8,118.5 226.9,112.2 226.9,118.9 227.0,115.0 227.0,127.0 227.0,111.3 227.1,121.3 227.1,124.1 227.1,116.4 227.2,117.8 227.2,108.0 227.2,131.0 227.3,123.7 227.3,128.7 227.4,119.8 227.4,121.3 227.4,118.5 227.5,110.1 227.5,120.6 227.5,124.0 227.6,115.8 227.6,116.3 227.7,121.0 227.7,111.3 227.7,131.9 227.8,122.8 227.8,109.7 227.8,126.6 227.9,122.6 227.9,117.5 228.0,107.3 228.0,111.2 228.0,122.4 228.1,125.5 228.1,125.4 228.1,114.0 228.2,125.7 228.2,125.8 228.2,121.4 228.3,122.8 228.3,115.6 228.4,113.7 228.4,112.5 228.4,115.1 228.5,118.4 228.5,108.7 228.5,124.4 228.6,114.7 228.6,105.8 228.7,123.8 228.7,117.6 228.7,122.1 228.8,121.0 228.8,129.6 228.8,110.7 228.9,113.3 228.9,123.6 228.9,127.0 229.0,114.4 229.0,123.5 229.1,118.6 229.1,122.7 229.1,120.8 229.2,123.9 229.2,127.0 229.2,118.0 229.3,121.7 229.3,121.9 229.4,121.7 229.4,130.7 229.4,122.0 229.5,123.3 229.5,105.4 229.5,102.9 229.6,111.5 229.6,108.5 229.7,115.8 229.7,113.0 229.7,119.8 229.8,106.5 229.8,109.9 229.8,110.0 229.9,118.0 229.9,115.6 229.9,114.0 230.0,115.5 230.0,125.7 230.1,129.9 230.1,118.3 230.1,128.6 230.2,121.5 230.2,114.5 230.2,120.3 230.3,122.5 230.3,120.0 230.4,112.8 230.4,127.8 230.4,124.3 230.5,109.7 230.5,130.1 230.5,127.2 230.6,115.0 230.6,131.3 230.6,120.1 230.7,117.6 230.7,127.6 230.8,129.9 230.8,111.6 230.8,125.4 230.9,131.7 230.9,120.5 230.9,127.0 231.0,117.5 231.0,125.1 231.1,115.4 231.1,117.2 231.1,122.1 231.2,127.3 231.2,119.8 231.2,108.8 231.3,131.8 231.3,122.0 231.4,118.7 231.4,120.7 231.4,115.4 231.5,127.2 231.5,119.6 231.5,111.5 231.6,130.5 231.6,109.4 231.6,121.9 231.7,109.9 231.7,116.6 231.8,124.6 231.8,127.2 231.8,123.2 231.9,122.9 231.9,120.9 231.9,104.1 232.0,120.1 232.0,114.3 232.1,131.9 232.1,116.0 232.1,128.4 232.2,105.5 232.2,123.4 232.2,122.9 232.3,124.8 232.3,125.5 232.3,124.6 232.4,122.4 232.4,113.8 232.5,125.5 232.5,122.8 232.5,108.3 232.6,133.9 232.6,114.9 232.6,117.5 232.7,117.2 232.7,120.5 232.8,127.5 232.8,118.6 232.8,134.6 232.9,121.1 232.9,100.7 232.9,124.7 233.0,117.0 233.0,127.3 233.1,112.2 233.1,119.8 233.1,116.6 233.2,121.4 233.2,121.1 233.2,115.8 233.3,118.6 233.3,126.4 233.3,122.7 233.4,122.1 233.4,114.3 233.5,125.2 233.5,133.6 233.5,116.7 233.6,119.8 233.6,116.7 233.6,128.6 233.7,108.8 233.7,122.2 233.8,115.4 233.8,121.5 233.8,124.4 233.9,125.9 233.9,117.0 233.9,118.1 234.0,127.0 234.0,128.6 234.0,102.8 234.1,110.0 234.1,123.4 234.2,117.2 234.2,120.9 234.2,116.6 234.3,125.0 234.3,121.3 234.3,118.5 234.4,116.1 234.4,130.7 234.5,124.4 234.5,103.7 234.5,122.5 234.6,117.3 234.6,116.7 234.6,116.5 234.7,112.3 234.7,113.9 234.8,114.9 234.8,112.0 234.8,117.2 234.9,114.6 234.9,128.7 234.9,123.6 235.0,115.4 235.0,117.5 235.0,110.0 235.1,126.2 235.1,123.9 235.2,122.4 235.2,116.4 235.2,125.0 235.3,111.7 235.3,114.2 235.3,116.3 235.4,124.8 235.4,123.1 235.5,126.8 235.5,117.0 235.5,127.2 235.6,124.3 235.6,113.0 235.6,126.9 235.7,112.0 235.7,120.4 235.7,129.1 235.8,111.1 235.8,128.6 235.9,114.6 235.9,103.1 235.9,129.0 236.0,122.5 236.0,123.6 236.0,122.0 236.1,113.9 236.1,112.6 236.2,126.2 236.2,133.7 236.2,108.2 236.3,131.7 236.3,123.1 236.3,111.1 236.4,127.2 236.4,123.8 236.4,102.6 236.5,124.4 236.5,109.7 236.6,129.6 236.6,109.5 236.6,131.7 236.7,125.4 236.7,105.3 236.7,120.3 236.8,118.5 236.8,123.9 236.9,117.8 236.9,126.5 236.9,117.4 237.0,119.9 237.0,123.2 237.0,115.8 237.1,109.2 237.1,127.6 237.2,124.1 237.2,111.7 237.2,109.6 237.3,123.8 237.3,116.2 237.3,116.2 237.4,107.1 237.4,122.0 237.4,120.7 237.5,119.4 237.5,126.3 237.6,121.9 237.6,125.4 237.6,124.1 237.7,122.6 237.7,128.0 237.7,113.0 237.8,118.9 237.8,111.3 237.9,131.1 237.9,124.9 237.9,120.6 238.0,117.1 238.0,124.6 238.0,115.6 238.1,117.3 238.1,125.8 238.1,122.3 238.2,116.7 238.2,119.8 238.3,123.0 238.3,103.8 238.3,122.5 238.4,111.9 238.4,121.0 238.4,103.4 238.5,118.1 238.5,126.4 238.6,113.6 238.6,116.9 238.6,107.8 238.7,112.1 238.7,126.7 238.7,113.8 238.8,122.6 238.8,123.3 238.9,122.9 238.9,126.6 238.9,107.8 239.0,121.1 239.0,104.5 239.0,123.7 239.1,138.9 239.1,123.1 239.1,116.8 239.2,126.5 239.2,101.4 239.3,129.1 239.3,122.9 239.3,124.8 239.4,119.2 239.4,121.4 239.4,120.7 239.5,117.2 239.5,116.8 239.6,114.3 239.6,120.7 239.6,124.3 239.7,118.7 239.7,116.0 239.7,121.5 239.8,116.9 239.8,117.7 239.8,123.5 239.9,115.3 239.9,129.1 240.0,114.4 240.0,119.6 240.0,117.9 240.1,118.0 240.1,122.5 240.1,123.3 240.2,118.2 240.2,128.1 240.3,119.6 240.3,124.6 240.3,118.8 240.4,102.0 240.4,133.5 240.4,119.2 240.5,110.8 240.5,129.8 240.6,143.5 240.6,129.5 240.6,116.8 240.7,131.4 240.7,103.5 240.7,131.4 240.8,119.2 240.8,121.2 240.8,121.3 240.9,122.3 240.9,120.3 241.0,116.7 241.0,107.1 241.0,126.6 241.1,113.0 241.1,120.9 241.1,121.5 241.2,114.6 241.2,126.1 241.3,130.0 241.3,128.4 241.3,127.0 241.4,115.3 241.4,104.5 241.4,121.8 241.5,122.1 241.5,124.3 241.5,125.2 241.6,129.0 241.6,108.3 241.7,124.2 241.7,115.2 241.7,101.5 241.8,123.7 241.8,119.2 241.8,117.8 241.9,119.1 241.9,113.2 242.0,125.6 242.0,121.5 242.0,121.2 242.1,120.6 242.1,119.2 242.1,132.4 242.2,118.4 242.2,135.4 242.3,121.0 242.3,125.6 242.3,118.4 242.4,121.1 242.4,112.4 242.4,121.1 242.5,120.3 242.5,126.7 242.5,124.9 242.6,133.8 242.6,121.7 242.7,129.3 242.7,118.0 242.7,119.4 242.8,109.8 242.8,117.5 242.8,117.8 242.9,109.7 242.9,119.6 243.0,111.6 243.0,112.2 243.0,109.2 243.1,118.3 243.1,115.9 243.1,123.6 243.2,112.3 243.2,129.0 243.2,125.2 243.3,121.1 243.3,120.8 243.4,118.5 243.4,118.4 243.4,120.0 243.5,119.5 243.5,113.8 243.5,115.3 243.6,120.9 243.6,126.2 243.7,110.6 243.7,129.9 243.7,115.6 243.8,120.9 243.8,117.2 243.8,107.9 243.9,129.2 243.9,121.0 243.9,128.0 244.0,127.5 244.0,120.6 244.1,113.3 244.1,131.9 244.1,120.4 244.2,124.9 244.2,112.3 244.2,130.1 244.3,115.7 244.3,122.9 244.4,120.2 244.4,113.8 244.4,119.4 244.5,117.3 244.5,126.1 244.5,126.9 244.6,118.7 244.6,112.2 244.7,119.2 244.7,118.6 244.7,122.5 244.8,123.3 244.8,122.4 244.8,121.3 244.9,123.1 244.9,122.5 244.9,127.6 245.0,125.2 245.0,126.3 245.1,116.3 245.1,108.4 245.1,121.8 245.2,131.4 245.2,133.3 245.2,119.0 245.3,111.7 245.3,120.0 245.4,125.4 245.4,130.0 245.4,115.9 245.5,107.8 245.5,121.1 245.5,136.2 245.6,120.5 245.6,112.8 245.6,119.6 245.7,114.3 245.7,115.8 245.8,126.5 245.8,118.6 245.8,120.8 245.9,136.8 245.9,127.2 245.9,125.4 246.0,110.0 246.0,117.1 246.1,120.9 246.1,126.1 246.1,116.7 246.2,135.6 246.2,128.5 246.2,117.8 246.3,126.1 246.3,129.2 246.4,122.8 246.4,127.4 246.4,113.5 246.5,124.5 246.5,116.6 246.5,122.0 246.6,112.6 246.6,117.8 246.6,108.3 246.7,118.6 246.7,130.9 246.8,115.7 246.8,124.8 246.8,114.5 246.9,125.6 246.9,123.0 246.9,120.9 247.0,132.4 247.0,126.7 247.1,124.0 247.1,120.3 247.1,122.2 247.2,128.5 247.2,111.5 247.2,123.4 247.3,118.2 247.3,116.3 247.3,127.1 247.4,124.5 247.4,122.6 247.5,128.8 247.5,105.6 247.5,126.4 247.6,126.3 247.6,115.8 247.6,117.7 247.7,122.9 247.7,114.8 247.8,125.5 247.8,132.1 247.8,122.2 247.9,119.9 247.9,121.1 247.9,121.0 248.0,127.7 248.0,117.2 248.1,124.2 248.1,114.5 248.1,117.6 248.2,121.3 248.2,122.6 248.2,113.1 248.3,115.4 248.3,115.5 248.3,129.6 248.4,115.5 248.4,119.1 248.5,106.6 248.5,123.5 248.5,120.3 248.6,128.2 248.6,117.2 248.6,117.5 248.7,118.9 248.7,101.3 248.8,119.8 248.8,118.6 248.8,123.3 248.9,124.9 248.9,127.9 248.9,126.5 249.0,117.0 249.0,117.6 249.0,116.6 249.1,117.5 249.1,131.2 249.2,106.1 249.2,132.5 249.2,126.0 249.3,137.7 249.3,129.8 249.3,125.9 249.4,123.8 249.4,112.3 249.5,119.9 249.5,117.4 249.5,127.5 249.6,121.3 249.6,112.2 249.6,120.2 249.7,128.5 249.7,112.8 249.8,132.8 249.8,106.7 249.8,114.1 249.9,128.6 249.9,122.5 249.9,124.4 250.0,124.6 250.0,128.7 250.0,121.0 250.1,119.1 250.1,112.7 250.2,124.7 250.2,126.1 250.2,121.6 250.3,121.4 250.3,120.9 250.3,126.4 250.4,126.3 250.4,120.7 250.5,123.7 250.5,128.6 250.5,126.3 250.6,132.6 250.6,116.8 250.6,108.4 250.7,108.3 250.7,124.9 250.7,135.8 250.8,118.7 250.8,122.5 250.9,121.4 250.9,115.0 250.9,115.4 251.0,117.8 251.0,128.1 251.0,126.7 251.1,113.3 251.1,109.1 251.2,103.7 251.2,111.2 251.2,113.6 251.3,116.1 251.3,103.9 251.3,115.2 251.4,100.4 251.4,89.7 251.5,116.1 251.5,108.7 251.5,113.8 251.6,105.9 251.6,106.1 251.6,101.2 251.7,99.2 251.7,101.6 251.7,102.4 251.8,108.5 251.8,92.0 251.9,109.8 251.9,105.8 251.9,104.5 252.0,92.8 252.0,85.5 252.0,89.8 252.1,102.5 252.1,101.1 252.2,91.4 252.2,90.3 252.2,81.1 252.3,95.7 252.3,91.7" fill="none" stroke="#e2330f" stroke-width="0.55" stroke-linejoin="round"/>
<g stroke="#3a3a3a" stroke-width="1.05" fill="none">
<rect x="97.8" y="22.4" width="168.6" height="142.1"/>
<line x1="93.9" y1="164.5" x2="97.8" y2="164.5"/>
<line x1="95.6" y1="155.6" x2="97.8" y2="155.6"/>
<line x1="264.8" y1="155.6" x2="266.4" y2="155.6"/>
<line x1="93.9" y1="146.7" x2="97.8" y2="146.7"/>
<line x1="263.8" y1="146.7" x2="266.4" y2="146.7"/>
<line x1="95.6" y1="137.9" x2="97.8" y2="137.9"/>
<line x1="264.8" y1="137.9" x2="266.4" y2="137.9"/>
<line x1="93.9" y1="129" x2="97.8" y2="129"/>
<line x1="263.8" y1="129" x2="266.4" y2="129"/>
<line x1="95.6" y1="120.1" x2="97.8" y2="120.1"/>
<line x1="264.8" y1="120.1" x2="266.4" y2="120.1"/>
<line x1="93.9" y1="111.2" x2="97.8" y2="111.2"/>
<line x1="263.8" y1="111.2" x2="266.4" y2="111.2"/>
<line x1="95.6" y1="102.3" x2="97.8" y2="102.3"/>
<line x1="264.8" y1="102.3" x2="266.4" y2="102.3"/>
<line x1="93.9" y1="93.5" x2="97.8" y2="93.5"/>
<line x1="263.8" y1="93.5" x2="266.4" y2="93.5"/>
<line x1="95.6" y1="84.6" x2="97.8" y2="84.6"/>
<line x1="264.8" y1="84.6" x2="266.4" y2="84.6"/>
<line x1="93.9" y1="75.7" x2="97.8" y2="75.7"/>
<line x1="263.8" y1="75.7" x2="266.4" y2="75.7"/>
<line x1="95.6" y1="66.8" x2="97.8" y2="66.8"/>
<line x1="264.8" y1="66.8" x2="266.4" y2="66.8"/>
<line x1="93.9" y1="57.9" x2="97.8" y2="57.9"/>
<line x1="263.8" y1="57.9" x2="266.4" y2="57.9"/>
<line x1="95.6" y1="49" x2="97.8" y2="49"/>
<line x1="264.8" y1="49" x2="266.4" y2="49"/>
<line x1="93.9" y1="40.2" x2="97.8" y2="40.2"/>
<line x1="263.8" y1="40.2" x2="266.4" y2="40.2"/>
<line x1="95.6" y1="31.3" x2="97.8" y2="31.3"/>
<line x1="264.8" y1="31.3" x2="266.4" y2="31.3"/>
<line x1="93.9" y1="22.4" x2="97.8" y2="22.4"/>
<line x1="97.9" y1="164.5" x2="97.9" y2="166.7"/>
<line x1="97.9" y1="22.4" x2="97.9" y2="24.8"/>
<line x1="111.9" y1="164.5" x2="111.9" y2="168.4"/>
<line x1="111.9" y1="22.4" x2="111.9" y2="26.2"/>
<line x1="125.9" y1="164.5" x2="125.9" y2="166.7"/>
<line x1="125.9" y1="22.4" x2="125.9" y2="24.8"/>
<line x1="140" y1="164.5" x2="140" y2="168.4"/>
<line x1="140" y1="22.4" x2="140" y2="26.2"/>
<line x1="154" y1="164.5" x2="154" y2="166.7"/>
<line x1="154" y1="22.4" x2="154" y2="24.8"/>
<line x1="168.1" y1="164.5" x2="168.1" y2="168.4"/>
<line x1="168.1" y1="22.4" x2="168.1" y2="26.2"/>
<line x1="182.1" y1="164.5" x2="182.1" y2="166.7"/>
<line x1="182.1" y1="22.4" x2="182.1" y2="24.8"/>
<line x1="196.1" y1="164.5" x2="196.1" y2="168.4"/>
<line x1="196.1" y1="22.4" x2="196.1" y2="26.2"/>
<line x1="210.2" y1="164.5" x2="210.2" y2="166.7"/>
<line x1="210.2" y1="22.4" x2="210.2" y2="24.8"/>
<line x1="224.2" y1="164.5" x2="224.2" y2="168.4"/>
<line x1="224.2" y1="22.4" x2="224.2" y2="26.2"/>
<line x1="238.3" y1="164.5" x2="238.3" y2="166.7"/>
<line x1="238.3" y1="22.4" x2="238.3" y2="24.8"/>
<line x1="252.3" y1="164.5" x2="252.3" y2="168.4"/>
<line x1="252.3" y1="22.4" x2="252.3" y2="26.2"/>
</g>
<g fill="#333333" font-size="8.3px">
<text x="91.4" y="167.3" text-anchor="end">0.0</text>
<text x="91.4" y="149.5" text-anchor="end">0.1</text>
<text x="91.4" y="131.8" text-anchor="end">0.2</text>
<text x="91.4" y="114" text-anchor="end">0.3</text>
<text x="91.4" y="96.2" text-anchor="end">0.4</text>
<text x="91.4" y="78.5" text-anchor="end">0.5</text>
<text x="91.4" y="60.7" text-anchor="end">0.6</text>
<text x="91.4" y="43" text-anchor="end">0.7</text>
<text x="91.4" y="25.2" text-anchor="end">0.8</text>
<text x="111.9" y="177.3" text-anchor="middle">0</text>
<text x="140" y="177.3" text-anchor="middle">200µ</text>
<text x="168.1" y="177.3" text-anchor="middle">400µ</text>
<text x="196.1" y="177.3" text-anchor="middle">600µ</text>
<text x="224.2" y="177.3" text-anchor="middle">800µ</text>
<text x="252.3" y="177.3" text-anchor="middle">1m</text>
</g>
<text x="182.3" y="193.0" text-anchor="middle" font-size="10px" fill="#333333">time (s)</text>
<text transform="translate(73.3,89.6) rotate(-90)" text-anchor="middle" font-size="10px" fill="#333333">I- I(0) (nA)</text>
<g fill="#333333" font-size="10px" text-anchor="middle">
<text x="148.7" y="36.2">V = 55 mV</text>
<text x="133.6" y="82.0">0 W</text>
<text x="164.4" y="82.0">1 mW</text>
<text x="203.2" y="82.0">0 W</text>
<text x="235.0" y="82.0">1 mW</text>
</g>
</svg>
</body>
</html>
